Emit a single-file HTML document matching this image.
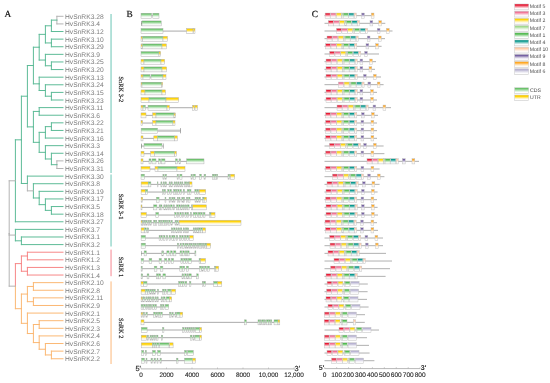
<!DOCTYPE html><html><head><meta charset="utf-8"><style>html,body{margin:0;padding:0;background:#fff;}svg{display:block;will-change:transform;text-rendering:geometricPrecision;}</style></head><body>
<svg width="550" height="383" viewBox="0 0 550 383" font-family="Liberation Sans, sans-serif">
<defs>
<linearGradient id="cds" x1="0" y1="0" x2="0" y2="1"><stop offset="0" stop-color="#45b545"/><stop offset="0.1" stop-color="#61c061"/><stop offset="0.35" stop-color="#a2daa2"/><stop offset="0.6" stop-color="#def2de"/><stop offset="0.8" stop-color="#ffffff"/><stop offset="1" stop-color="#eeeeee"/></linearGradient>
<linearGradient id="utr" x1="0" y1="0" x2="0" y2="1"><stop offset="0" stop-color="#ffd200"/><stop offset="0.28" stop-color="#ffd40d"/><stop offset="0.55" stop-color="#ffefa6"/><stop offset="0.78" stop-color="#ffffff"/><stop offset="1" stop-color="#eeeeee"/></linearGradient>
<linearGradient id="m5" x1="0" y1="0" x2="0" y2="1"><stop offset="0" stop-color="#e8112d"/><stop offset="0.2" stop-color="#e91d38"/><stop offset="0.5" stop-color="#f6a5af"/><stop offset="0.78" stop-color="#ffffff"/><stop offset="1" stop-color="#eeeeee"/></linearGradient>
<linearGradient id="m3" x1="0" y1="0" x2="0" y2="1"><stop offset="0" stop-color="#f06b8f"/><stop offset="0.2" stop-color="#f17295"/><stop offset="0.5" stop-color="#f9c7d4"/><stop offset="0.78" stop-color="#ffffff"/><stop offset="1" stop-color="#eeeeee"/></linearGradient>
<linearGradient id="m2" x1="0" y1="0" x2="0" y2="1"><stop offset="0" stop-color="#ffd200"/><stop offset="0.2" stop-color="#ffd40d"/><stop offset="0.5" stop-color="#ffee9e"/><stop offset="0.78" stop-color="#ffffff"/><stop offset="1" stop-color="#eeeeee"/></linearGradient>
<linearGradient id="m7" x1="0" y1="0" x2="0" y2="1"><stop offset="0" stop-color="#9fd88a"/><stop offset="0.2" stop-color="#a4da90"/><stop offset="0.5" stop-color="#dbf0d3"/><stop offset="0.78" stop-color="#ffffff"/><stop offset="1" stop-color="#eeeeee"/></linearGradient>
<linearGradient id="m1" x1="0" y1="0" x2="0" y2="1"><stop offset="0" stop-color="#4cb84a"/><stop offset="0.2" stop-color="#55bc53"/><stop offset="0.5" stop-color="#bbe4ba"/><stop offset="0.78" stop-color="#ffffff"/><stop offset="1" stop-color="#eeeeee"/></linearGradient>
<linearGradient id="m4" x1="0" y1="0" x2="0" y2="1"><stop offset="0" stop-color="#00968a"/><stop offset="0.2" stop-color="#0d9b90"/><stop offset="0.5" stop-color="#9ed7d3"/><stop offset="0.78" stop-color="#ffffff"/><stop offset="1" stop-color="#eeeeee"/></linearGradient>
<linearGradient id="m10" x1="0" y1="0" x2="0" y2="1"><stop offset="0" stop-color="#ffc7a0"/><stop offset="0.2" stop-color="#ffcaa5"/><stop offset="0.5" stop-color="#ffeadb"/><stop offset="0.78" stop-color="#ffffff"/><stop offset="1" stop-color="#eeeeee"/></linearGradient>
<linearGradient id="m9" x1="0" y1="0" x2="0" y2="1"><stop offset="0" stop-color="#6f5a9e"/><stop offset="0.2" stop-color="#7662a3"/><stop offset="0.5" stop-color="#c8c0da"/><stop offset="0.78" stop-color="#ffffff"/><stop offset="1" stop-color="#eeeeee"/></linearGradient>
<linearGradient id="m8" x1="0" y1="0" x2="0" y2="1"><stop offset="0" stop-color="#ffa41b"/><stop offset="0.2" stop-color="#ffa926"/><stop offset="0.5" stop-color="#ffdca8"/><stop offset="0.78" stop-color="#ffffff"/><stop offset="1" stop-color="#eeeeee"/></linearGradient>
<linearGradient id="m6" x1="0" y1="0" x2="0" y2="1"><stop offset="0" stop-color="#b5b0d0"/><stop offset="0.2" stop-color="#b9b4d2"/><stop offset="0.5" stop-color="#e3e1ed"/><stop offset="0.78" stop-color="#ffffff"/><stop offset="1" stop-color="#eeeeee"/></linearGradient>
</defs>
<rect width="550" height="383" fill="#fff"/>
<text x="4.6" y="16.6" font-family="Liberation Serif, serif" font-size="9.3" fill="#111" stroke="#111" stroke-width="0.2">A</text>
<text x="126.6" y="16.8" font-family="Liberation Serif, serif" font-size="9.3" fill="#111" stroke="#111" stroke-width="0.2">B</text>
<text x="311.8" y="17" font-family="Liberation Serif, serif" font-size="9.3" fill="#111" stroke="#111" stroke-width="0.2">C</text>
<g stroke-width="1" stroke-linecap="square" fill="none">
<line x1="56.90" y1="20.11" x2="56.90" y2="16.30" stroke="#b4b4b4"/>
<line x1="56.90" y1="16.30" x2="63.00" y2="16.30" stroke="#b4b4b4"/>
<line x1="56.90" y1="20.11" x2="56.90" y2="23.91" stroke="#b4b4b4"/>
<line x1="56.90" y1="23.91" x2="63.00" y2="23.91" stroke="#b4b4b4"/>
<line x1="51.40" y1="25.81" x2="51.40" y2="20.11" stroke="#5dbb97"/>
<line x1="51.40" y1="20.11" x2="56.90" y2="20.11" stroke="#5dbb97"/>
<line x1="51.40" y1="25.81" x2="51.40" y2="31.52" stroke="#5dbb97"/>
<line x1="51.40" y1="31.52" x2="63.00" y2="31.52" stroke="#5dbb97"/>
<line x1="45.40" y1="34.37" x2="45.40" y2="25.81" stroke="#5dbb97"/>
<line x1="45.40" y1="25.81" x2="51.40" y2="25.81" stroke="#5dbb97"/>
<line x1="51.40" y1="42.94" x2="51.40" y2="39.13" stroke="#5dbb97"/>
<line x1="51.40" y1="39.13" x2="63.00" y2="39.13" stroke="#5dbb97"/>
<line x1="51.40" y1="42.94" x2="51.40" y2="46.74" stroke="#5dbb97"/>
<line x1="51.40" y1="46.74" x2="63.00" y2="46.74" stroke="#5dbb97"/>
<line x1="45.40" y1="34.37" x2="45.40" y2="42.94" stroke="#5dbb97"/>
<line x1="45.40" y1="42.94" x2="51.40" y2="42.94" stroke="#5dbb97"/>
<line x1="39.20" y1="47.22" x2="39.20" y2="34.37" stroke="#5dbb97"/>
<line x1="39.20" y1="34.37" x2="45.40" y2="34.37" stroke="#5dbb97"/>
<line x1="45.40" y1="60.06" x2="45.40" y2="54.35" stroke="#5dbb97"/>
<line x1="45.40" y1="54.35" x2="63.00" y2="54.35" stroke="#5dbb97"/>
<line x1="51.40" y1="65.77" x2="51.40" y2="61.96" stroke="#5dbb97"/>
<line x1="51.40" y1="61.96" x2="63.00" y2="61.96" stroke="#5dbb97"/>
<line x1="51.40" y1="65.77" x2="51.40" y2="69.57" stroke="#5dbb97"/>
<line x1="51.40" y1="69.57" x2="63.00" y2="69.57" stroke="#5dbb97"/>
<line x1="45.40" y1="60.06" x2="45.40" y2="65.77" stroke="#5dbb97"/>
<line x1="45.40" y1="65.77" x2="51.40" y2="65.77" stroke="#5dbb97"/>
<line x1="39.20" y1="47.22" x2="39.20" y2="60.06" stroke="#5dbb97"/>
<line x1="39.20" y1="60.06" x2="45.40" y2="60.06" stroke="#5dbb97"/>
<line x1="33.40" y1="65.53" x2="33.40" y2="47.22" stroke="#5dbb97"/>
<line x1="33.40" y1="47.22" x2="39.20" y2="47.22" stroke="#5dbb97"/>
<line x1="39.20" y1="83.84" x2="39.20" y2="77.18" stroke="#5dbb97"/>
<line x1="39.20" y1="77.18" x2="63.00" y2="77.18" stroke="#5dbb97"/>
<line x1="45.40" y1="90.50" x2="45.40" y2="84.79" stroke="#5dbb97"/>
<line x1="45.40" y1="84.79" x2="63.00" y2="84.79" stroke="#5dbb97"/>
<line x1="51.40" y1="96.21" x2="51.40" y2="92.40" stroke="#5dbb97"/>
<line x1="51.40" y1="92.40" x2="63.00" y2="92.40" stroke="#5dbb97"/>
<line x1="51.40" y1="96.21" x2="51.40" y2="100.01" stroke="#5dbb97"/>
<line x1="51.40" y1="100.01" x2="63.00" y2="100.01" stroke="#5dbb97"/>
<line x1="45.40" y1="90.50" x2="45.40" y2="96.21" stroke="#5dbb97"/>
<line x1="45.40" y1="96.21" x2="51.40" y2="96.21" stroke="#5dbb97"/>
<line x1="39.20" y1="83.84" x2="39.20" y2="90.50" stroke="#5dbb97"/>
<line x1="39.20" y1="90.50" x2="45.40" y2="90.50" stroke="#5dbb97"/>
<line x1="33.40" y1="65.53" x2="33.40" y2="83.84" stroke="#5dbb97"/>
<line x1="33.40" y1="83.84" x2="39.20" y2="83.84" stroke="#5dbb97"/>
<line x1="27.40" y1="96.21" x2="27.40" y2="65.53" stroke="#5dbb97"/>
<line x1="27.40" y1="65.53" x2="33.40" y2="65.53" stroke="#5dbb97"/>
<line x1="39.20" y1="111.43" x2="39.20" y2="107.62" stroke="#5dbb97"/>
<line x1="39.20" y1="107.62" x2="63.00" y2="107.62" stroke="#5dbb97"/>
<line x1="39.20" y1="111.43" x2="39.20" y2="115.23" stroke="#5dbb97"/>
<line x1="39.20" y1="115.23" x2="63.00" y2="115.23" stroke="#5dbb97"/>
<line x1="33.40" y1="126.88" x2="33.40" y2="111.43" stroke="#5dbb97"/>
<line x1="33.40" y1="111.43" x2="39.20" y2="111.43" stroke="#5dbb97"/>
<line x1="51.40" y1="126.65" x2="51.40" y2="122.84" stroke="#5dbb97"/>
<line x1="51.40" y1="122.84" x2="63.00" y2="122.84" stroke="#5dbb97"/>
<line x1="51.40" y1="126.65" x2="51.40" y2="130.45" stroke="#5dbb97"/>
<line x1="51.40" y1="130.45" x2="63.00" y2="130.45" stroke="#5dbb97"/>
<line x1="45.40" y1="132.35" x2="45.40" y2="126.65" stroke="#5dbb97"/>
<line x1="45.40" y1="126.65" x2="51.40" y2="126.65" stroke="#5dbb97"/>
<line x1="45.40" y1="132.35" x2="45.40" y2="138.06" stroke="#5dbb97"/>
<line x1="45.40" y1="138.06" x2="63.00" y2="138.06" stroke="#5dbb97"/>
<line x1="39.20" y1="142.34" x2="39.20" y2="132.35" stroke="#5dbb97"/>
<line x1="39.20" y1="132.35" x2="45.40" y2="132.35" stroke="#5dbb97"/>
<line x1="45.40" y1="152.33" x2="45.40" y2="145.67" stroke="#5dbb97"/>
<line x1="45.40" y1="145.67" x2="63.00" y2="145.67" stroke="#5dbb97"/>
<line x1="51.40" y1="158.99" x2="51.40" y2="153.28" stroke="#5dbb97"/>
<line x1="51.40" y1="153.28" x2="63.00" y2="153.28" stroke="#5dbb97"/>
<line x1="56.90" y1="164.70" x2="56.90" y2="160.89" stroke="#b4b4b4"/>
<line x1="56.90" y1="160.89" x2="63.00" y2="160.89" stroke="#b4b4b4"/>
<line x1="56.90" y1="164.70" x2="56.90" y2="168.50" stroke="#b4b4b4"/>
<line x1="56.90" y1="168.50" x2="63.00" y2="168.50" stroke="#b4b4b4"/>
<line x1="51.40" y1="158.99" x2="51.40" y2="164.70" stroke="#5dbb97"/>
<line x1="51.40" y1="164.70" x2="56.90" y2="164.70" stroke="#5dbb97"/>
<line x1="45.40" y1="152.33" x2="45.40" y2="158.99" stroke="#5dbb97"/>
<line x1="45.40" y1="158.99" x2="51.40" y2="158.99" stroke="#5dbb97"/>
<line x1="39.20" y1="142.34" x2="39.20" y2="152.33" stroke="#5dbb97"/>
<line x1="39.20" y1="152.33" x2="45.40" y2="152.33" stroke="#5dbb97"/>
<line x1="33.40" y1="126.88" x2="33.40" y2="142.34" stroke="#5dbb97"/>
<line x1="33.40" y1="142.34" x2="39.20" y2="142.34" stroke="#5dbb97"/>
<line x1="27.40" y1="96.21" x2="27.40" y2="126.88" stroke="#5dbb97"/>
<line x1="27.40" y1="126.88" x2="33.40" y2="126.88" stroke="#5dbb97"/>
<line x1="21.40" y1="139.84" x2="21.40" y2="96.21" stroke="#5dbb97"/>
<line x1="21.40" y1="96.21" x2="27.40" y2="96.21" stroke="#5dbb97"/>
<line x1="27.40" y1="183.48" x2="27.40" y2="176.11" stroke="#5dbb97"/>
<line x1="27.40" y1="176.11" x2="63.00" y2="176.11" stroke="#5dbb97"/>
<line x1="33.40" y1="190.85" x2="33.40" y2="183.72" stroke="#5dbb97"/>
<line x1="33.40" y1="183.72" x2="63.00" y2="183.72" stroke="#5dbb97"/>
<line x1="39.20" y1="197.99" x2="39.20" y2="191.33" stroke="#5dbb97"/>
<line x1="39.20" y1="191.33" x2="63.00" y2="191.33" stroke="#5dbb97"/>
<line x1="45.40" y1="204.65" x2="45.40" y2="198.94" stroke="#5dbb97"/>
<line x1="45.40" y1="198.94" x2="63.00" y2="198.94" stroke="#5dbb97"/>
<line x1="51.40" y1="210.36" x2="51.40" y2="206.55" stroke="#5dbb97"/>
<line x1="51.40" y1="206.55" x2="63.00" y2="206.55" stroke="#5dbb97"/>
<line x1="51.40" y1="210.36" x2="51.40" y2="214.16" stroke="#5dbb97"/>
<line x1="51.40" y1="214.16" x2="63.00" y2="214.16" stroke="#5dbb97"/>
<line x1="45.40" y1="204.65" x2="45.40" y2="210.36" stroke="#5dbb97"/>
<line x1="45.40" y1="210.36" x2="51.40" y2="210.36" stroke="#5dbb97"/>
<line x1="39.20" y1="197.99" x2="39.20" y2="204.65" stroke="#5dbb97"/>
<line x1="39.20" y1="204.65" x2="45.40" y2="204.65" stroke="#5dbb97"/>
<line x1="33.40" y1="190.85" x2="33.40" y2="197.99" stroke="#5dbb97"/>
<line x1="33.40" y1="197.99" x2="39.20" y2="197.99" stroke="#5dbb97"/>
<line x1="27.40" y1="183.48" x2="27.40" y2="190.85" stroke="#b4b4b4"/>
<line x1="27.40" y1="190.85" x2="33.40" y2="190.85" stroke="#b4b4b4"/>
<line x1="21.40" y1="139.84" x2="21.40" y2="183.48" stroke="#5dbb97"/>
<line x1="21.40" y1="183.48" x2="27.40" y2="183.48" stroke="#5dbb97"/>
<line x1="15.40" y1="180.81" x2="15.40" y2="139.84" stroke="#5dbb97"/>
<line x1="15.40" y1="139.84" x2="21.40" y2="139.84" stroke="#5dbb97"/>
<line x1="15.40" y1="180.81" x2="15.40" y2="221.77" stroke="#5dbb97"/>
<line x1="15.40" y1="221.77" x2="63.00" y2="221.77" stroke="#5dbb97"/>
<line x1="9.20" y1="233.48" x2="9.20" y2="180.81" stroke="#b4b4b4"/>
<line x1="9.20" y1="180.81" x2="15.40" y2="180.81" stroke="#b4b4b4"/>
<line x1="15.40" y1="235.09" x2="15.40" y2="229.38" stroke="#5dbb97"/>
<line x1="15.40" y1="229.38" x2="63.00" y2="229.38" stroke="#5dbb97"/>
<line x1="21.40" y1="240.80" x2="21.40" y2="236.99" stroke="#5dbb97"/>
<line x1="21.40" y1="236.99" x2="63.00" y2="236.99" stroke="#5dbb97"/>
<line x1="21.40" y1="240.80" x2="21.40" y2="244.60" stroke="#5dbb97"/>
<line x1="21.40" y1="244.60" x2="63.00" y2="244.60" stroke="#5dbb97"/>
<line x1="15.40" y1="235.09" x2="15.40" y2="240.80" stroke="#5dbb97"/>
<line x1="15.40" y1="240.80" x2="21.40" y2="240.80" stroke="#5dbb97"/>
<line x1="9.20" y1="233.48" x2="9.20" y2="235.09" stroke="#b4b4b4"/>
<line x1="9.20" y1="235.09" x2="15.40" y2="235.09" stroke="#b4b4b4"/>
<line x1="27.40" y1="256.01" x2="27.40" y2="252.21" stroke="#f78787"/>
<line x1="27.40" y1="252.21" x2="63.00" y2="252.21" stroke="#f78787"/>
<line x1="27.40" y1="256.01" x2="27.40" y2="259.82" stroke="#f78787"/>
<line x1="27.40" y1="259.82" x2="63.00" y2="259.82" stroke="#f78787"/>
<line x1="21.40" y1="263.62" x2="21.40" y2="256.01" stroke="#f78787"/>
<line x1="21.40" y1="256.01" x2="27.40" y2="256.01" stroke="#f78787"/>
<line x1="27.40" y1="271.24" x2="27.40" y2="267.43" stroke="#f78787"/>
<line x1="27.40" y1="267.43" x2="63.00" y2="267.43" stroke="#f78787"/>
<line x1="27.40" y1="271.24" x2="27.40" y2="275.04" stroke="#f78787"/>
<line x1="27.40" y1="275.04" x2="63.00" y2="275.04" stroke="#f78787"/>
<line x1="21.40" y1="263.62" x2="21.40" y2="271.24" stroke="#f78787"/>
<line x1="21.40" y1="271.24" x2="27.40" y2="271.24" stroke="#f78787"/>
<line x1="15.40" y1="286.16" x2="15.40" y2="263.62" stroke="#f78787"/>
<line x1="15.40" y1="263.62" x2="21.40" y2="263.62" stroke="#f78787"/>
<line x1="33.40" y1="286.46" x2="33.40" y2="282.65" stroke="#fbb874"/>
<line x1="33.40" y1="282.65" x2="63.00" y2="282.65" stroke="#fbb874"/>
<line x1="33.40" y1="286.46" x2="33.40" y2="290.26" stroke="#fbb874"/>
<line x1="33.40" y1="290.26" x2="63.00" y2="290.26" stroke="#fbb874"/>
<line x1="27.40" y1="294.07" x2="27.40" y2="286.46" stroke="#fbb874"/>
<line x1="27.40" y1="286.46" x2="33.40" y2="286.46" stroke="#fbb874"/>
<line x1="33.40" y1="301.68" x2="33.40" y2="297.87" stroke="#fbb874"/>
<line x1="33.40" y1="297.87" x2="63.00" y2="297.87" stroke="#fbb874"/>
<line x1="33.40" y1="301.68" x2="33.40" y2="305.48" stroke="#fbb874"/>
<line x1="33.40" y1="305.48" x2="63.00" y2="305.48" stroke="#fbb874"/>
<line x1="27.40" y1="294.07" x2="27.40" y2="301.68" stroke="#fbb874"/>
<line x1="27.40" y1="301.68" x2="33.40" y2="301.68" stroke="#fbb874"/>
<line x1="21.40" y1="308.69" x2="21.40" y2="294.07" stroke="#fbb874"/>
<line x1="21.40" y1="294.07" x2="27.40" y2="294.07" stroke="#fbb874"/>
<line x1="27.40" y1="323.32" x2="27.40" y2="313.09" stroke="#fbb874"/>
<line x1="27.40" y1="313.09" x2="63.00" y2="313.09" stroke="#fbb874"/>
<line x1="39.20" y1="324.50" x2="39.20" y2="320.70" stroke="#fbb874"/>
<line x1="39.20" y1="320.70" x2="63.00" y2="320.70" stroke="#fbb874"/>
<line x1="39.20" y1="324.50" x2="39.20" y2="328.31" stroke="#fbb874"/>
<line x1="39.20" y1="328.31" x2="63.00" y2="328.31" stroke="#fbb874"/>
<line x1="33.40" y1="333.54" x2="33.40" y2="324.50" stroke="#fbb874"/>
<line x1="33.40" y1="324.50" x2="39.20" y2="324.50" stroke="#fbb874"/>
<line x1="39.20" y1="342.58" x2="39.20" y2="335.92" stroke="#fbb874"/>
<line x1="39.20" y1="335.92" x2="63.00" y2="335.92" stroke="#fbb874"/>
<line x1="45.40" y1="349.24" x2="45.40" y2="343.53" stroke="#fbb874"/>
<line x1="45.40" y1="343.53" x2="63.00" y2="343.53" stroke="#fbb874"/>
<line x1="51.40" y1="354.95" x2="51.40" y2="351.14" stroke="#fbb874"/>
<line x1="51.40" y1="351.14" x2="63.00" y2="351.14" stroke="#fbb874"/>
<line x1="51.40" y1="354.95" x2="51.40" y2="358.75" stroke="#fbb874"/>
<line x1="51.40" y1="358.75" x2="63.00" y2="358.75" stroke="#fbb874"/>
<line x1="45.40" y1="349.24" x2="45.40" y2="354.95" stroke="#fbb874"/>
<line x1="45.40" y1="354.95" x2="51.40" y2="354.95" stroke="#fbb874"/>
<line x1="39.20" y1="342.58" x2="39.20" y2="349.24" stroke="#fbb874"/>
<line x1="39.20" y1="349.24" x2="45.40" y2="349.24" stroke="#fbb874"/>
<line x1="33.40" y1="333.54" x2="33.40" y2="342.58" stroke="#fbb874"/>
<line x1="33.40" y1="342.58" x2="39.20" y2="342.58" stroke="#fbb874"/>
<line x1="27.40" y1="323.32" x2="27.40" y2="333.54" stroke="#fbb874"/>
<line x1="27.40" y1="333.54" x2="33.40" y2="333.54" stroke="#fbb874"/>
<line x1="21.40" y1="308.69" x2="21.40" y2="323.32" stroke="#fbb874"/>
<line x1="21.40" y1="323.32" x2="27.40" y2="323.32" stroke="#fbb874"/>
<line x1="15.40" y1="286.16" x2="15.40" y2="308.69" stroke="#fbb874"/>
<line x1="15.40" y1="308.69" x2="21.40" y2="308.69" stroke="#fbb874"/>
<line x1="9.20" y1="233.48" x2="9.20" y2="286.16" stroke="#b4b4b4"/>
<line x1="9.20" y1="286.16" x2="15.40" y2="286.16" stroke="#b4b4b4"/>
</g>
<g font-size="6.7" fill="#7c7c7c">
<text x="65" y="18.80">HvSnRK3.28</text>
<text x="65" y="26.41">HvSnRK3.4</text>
<text x="65" y="34.02">HvSnRK3.12</text>
<text x="65" y="41.63">HvSnRK3.10</text>
<text x="65" y="49.24">HvSnRK3.29</text>
<text x="65" y="56.85">HvSnRK3.9</text>
<text x="65" y="64.46">HvSnRK3.25</text>
<text x="65" y="72.07">HvSnRK3.20</text>
<text x="65" y="79.68">HvSnRK3.13</text>
<text x="65" y="87.29">HvSnRK3.24</text>
<text x="65" y="94.90">HvSnRK3.15</text>
<text x="65" y="102.51">HvSnRK3.23</text>
<text x="65" y="110.12">HvSnRK3.11</text>
<text x="65" y="117.73">HvSnRK3.6</text>
<text x="65" y="125.34">HvSnRK3.22</text>
<text x="65" y="132.95">HvSnRK3.21</text>
<text x="65" y="140.56">HvSnRK3.16</text>
<text x="65" y="148.17">HvSnRK3.3</text>
<text x="65" y="155.78">HvSnRK3.14</text>
<text x="65" y="163.39">HvSnRK3.26</text>
<text x="65" y="171.00">HvSnRK3.31</text>
<text x="65" y="178.61">HvSnRK3.30</text>
<text x="65" y="186.22">HvSnRK3.8</text>
<text x="65" y="193.83">HvSnRK3.19</text>
<text x="65" y="201.44">HvSnRK3.17</text>
<text x="65" y="209.05">HvSnRK3.5</text>
<text x="65" y="216.66">HvSnRK3.18</text>
<text x="65" y="224.27">HvSnRK3.27</text>
<text x="65" y="231.88">HvSnRK3.7</text>
<text x="65" y="239.49">HvSnRK3.1</text>
<text x="65" y="247.10">HvSnRK3.2</text>
<text x="65" y="254.71">HvSnRK1.1</text>
<text x="65" y="262.32">HvSnRK1.2</text>
<text x="65" y="269.93">HvSnRK1.3</text>
<text x="65" y="277.54">HvSnRK1.4</text>
<text x="65" y="285.15">HvSnRK2.10</text>
<text x="65" y="292.76">HvSnRK2.8</text>
<text x="65" y="300.37">HvSnRK2.11</text>
<text x="65" y="307.98">HvSnRK2.9</text>
<text x="65" y="315.59">HvSnRK2.1</text>
<text x="65" y="323.20">HvSnRK2.5</text>
<text x="65" y="330.81">HvSnRK2.3</text>
<text x="65" y="338.42">HvSnRK2.4</text>
<text x="65" y="346.03">HvSnRK2.6</text>
<text x="65" y="353.64">HvSnRK2.7</text>
<text x="65" y="361.25">HvSnRK2.2</text>
</g>
<rect x="110.4" y="14" width="1.3" height="159" fill="#8dd3c7"/>
<rect x="110.4" y="174.5" width="1.3" height="72" fill="#8dd3c7"/>
<rect x="110.4" y="249.6" width="1.3" height="26.6" fill="#f8a3ab"/>
<rect x="110.4" y="281.4" width="1.3" height="82.6" fill="#fdc99a"/>
<text transform="translate(119.3,89.3) rotate(90)" text-anchor="middle" font-family="Liberation Serif, serif" font-size="6.4" fill="#1a1a1a" stroke="#1a1a1a" stroke-width="0.18">SnRK 3-2</text>
<text transform="translate(119.3,206.5) rotate(90)" text-anchor="middle" font-family="Liberation Serif, serif" font-size="6.4" fill="#1a1a1a" stroke="#1a1a1a" stroke-width="0.18">SnRK 3-1</text>
<text transform="translate(119.3,267) rotate(90)" text-anchor="middle" font-family="Liberation Serif, serif" font-size="6.4" fill="#1a1a1a" stroke="#1a1a1a" stroke-width="0.18">SnRK 1</text>
<text transform="translate(119.3,328.3) rotate(90)" text-anchor="middle" font-family="Liberation Serif, serif" font-size="6.4" fill="#1a1a1a" stroke="#1a1a1a" stroke-width="0.18">SnRK 2</text>
<g stroke="#b0b0b0" stroke-width="0.45">
<line x1="141" y1="15.75" x2="159" y2="15.75" stroke="#8e8e8e" stroke-width="0.75"/>
<rect x="141" y="13.25" width="10.60" height="5.0" fill="url(#cds)"/>
<rect x="152.8" y="13.25" width="6.20" height="5.0" fill="url(#cds)"/>
<line x1="141" y1="23.41" x2="161.2" y2="23.41" stroke="#8e8e8e" stroke-width="0.75"/>
<rect x="141" y="21.02" width="0.70" height="4.8" fill="#7f8f7f" stroke="none"/>
<rect x="142" y="20.91" width="19.20" height="5.0" fill="url(#cds)"/>
<line x1="141" y1="31.08" x2="195" y2="31.08" stroke="#8e8e8e" stroke-width="0.75"/>
<rect x="141" y="28.58" width="22.00" height="5.0" fill="url(#cds)"/>
<rect x="186.6" y="28.58" width="6.40" height="5.0" fill="url(#utr)"/>
<rect x="193.4" y="28.58" width="1.60" height="5.0" fill="url(#utr)"/>
<line x1="141" y1="38.75" x2="167.4" y2="38.75" stroke="#8e8e8e" stroke-width="0.75"/>
<rect x="141" y="36.25" width="1.60" height="5.0" fill="url(#utr)"/>
<rect x="142.6" y="36.25" width="20.40" height="5.0" fill="url(#cds)"/>
<rect x="163" y="36.25" width="4.40" height="5.0" fill="url(#utr)"/>
<line x1="141" y1="46.41" x2="166.4" y2="46.41" stroke="#8e8e8e" stroke-width="0.75"/>
<rect x="141" y="43.91" width="1.60" height="5.0" fill="url(#utr)"/>
<rect x="142.6" y="43.91" width="19.40" height="5.0" fill="url(#cds)"/>
<rect x="162" y="43.91" width="4.40" height="5.0" fill="url(#utr)"/>
<line x1="141" y1="54.08" x2="160.6" y2="54.08" stroke="#8e8e8e" stroke-width="0.75"/>
<rect x="141" y="51.58" width="18.00" height="5.0" fill="url(#cds)"/>
<rect x="159" y="51.58" width="1.60" height="5.0" fill="url(#utr)"/>
<line x1="141" y1="61.74" x2="164.6" y2="61.74" stroke="#8e8e8e" stroke-width="0.75"/>
<rect x="141" y="59.24" width="3.00" height="5.0" fill="url(#utr)"/>
<rect x="144" y="59.24" width="17.00" height="5.0" fill="url(#cds)"/>
<rect x="161" y="59.24" width="3.60" height="5.0" fill="url(#utr)"/>
<line x1="141" y1="69.41" x2="166.6" y2="69.41" stroke="#8e8e8e" stroke-width="0.75"/>
<rect x="141" y="66.91" width="3.00" height="5.0" fill="url(#utr)"/>
<rect x="144" y="66.91" width="18.00" height="5.0" fill="url(#cds)"/>
<rect x="162" y="66.91" width="4.60" height="5.0" fill="url(#utr)"/>
<line x1="141" y1="77.07" x2="166" y2="77.07" stroke="#8e8e8e" stroke-width="0.75"/>
<rect x="141" y="74.57" width="2.00" height="5.0" fill="url(#utr)"/>
<rect x="143" y="74.57" width="7.00" height="5.0" fill="url(#cds)"/>
<rect x="151" y="74.57" width="12.00" height="5.0" fill="url(#cds)"/>
<rect x="163" y="74.57" width="3.00" height="5.0" fill="url(#utr)"/>
<line x1="141" y1="84.73" x2="162.6" y2="84.73" stroke="#8e8e8e" stroke-width="0.75"/>
<rect x="141" y="82.23" width="1.00" height="5.0" fill="url(#utr)"/>
<rect x="142" y="82.23" width="19.60" height="5.0" fill="url(#cds)"/>
<rect x="161.6" y="82.23" width="1.00" height="5.0" fill="url(#utr)"/>
<line x1="141" y1="92.40" x2="165.4" y2="92.40" stroke="#8e8e8e" stroke-width="0.75"/>
<rect x="141" y="89.90" width="4.00" height="5.0" fill="url(#utr)"/>
<rect x="145" y="89.90" width="17.00" height="5.0" fill="url(#cds)"/>
<rect x="162" y="89.90" width="3.40" height="5.0" fill="url(#utr)"/>
<line x1="141" y1="100.06" x2="178.6" y2="100.06" stroke="#8e8e8e" stroke-width="0.75"/>
<rect x="141" y="97.56" width="8.00" height="5.0" fill="url(#utr)"/>
<rect x="149" y="97.56" width="17.00" height="5.0" fill="url(#cds)"/>
<rect x="166" y="97.56" width="12.60" height="5.0" fill="url(#utr)"/>
<line x1="141" y1="107.73" x2="197.4" y2="107.73" stroke="#8e8e8e" stroke-width="0.75"/>
<rect x="141" y="105.23" width="2.00" height="5.0" fill="url(#utr)"/>
<rect x="143" y="105.23" width="2.40" height="5.0" fill="url(#cds)"/>
<rect x="148" y="105.23" width="19.00" height="5.0" fill="url(#cds)"/>
<rect x="167" y="105.23" width="2.40" height="5.0" fill="url(#utr)"/>
<rect x="192.6" y="105.23" width="2.00" height="5.0" fill="url(#utr)"/>
<rect x="195" y="105.23" width="2.40" height="5.0" fill="url(#utr)"/>
<line x1="141" y1="115.39" x2="175.4" y2="115.39" stroke="#8e8e8e" stroke-width="0.75"/>
<rect x="141" y="112.89" width="5.00" height="5.0" fill="url(#utr)"/>
<rect x="152.6" y="112.89" width="3.40" height="5.0" fill="url(#utr)"/>
<rect x="156" y="112.89" width="18.00" height="5.0" fill="url(#cds)"/>
<rect x="174" y="112.89" width="1.40" height="5.0" fill="url(#utr)"/>
<line x1="141" y1="123.06" x2="175" y2="123.06" stroke="#8e8e8e" stroke-width="0.75"/>
<rect x="141" y="120.56" width="1.60" height="5.0" fill="url(#utr)"/>
<rect x="152.6" y="120.56" width="3.40" height="5.0" fill="url(#utr)"/>
<rect x="156" y="120.56" width="17.00" height="5.0" fill="url(#cds)"/>
<rect x="173" y="120.56" width="2.00" height="5.0" fill="url(#utr)"/>
<line x1="141.1" y1="130.72" x2="180.9" y2="130.72" stroke="#8e8e8e" stroke-width="0.75"/>
<rect x="141.1" y="128.22" width="16.50" height="5.0" fill="url(#cds)"/>
<rect x="157.6" y="129.62" width="22.80" height="2.2" fill="#c9c9c9" stroke="none"/>
<rect x="180.1" y="128.12" width="0.80" height="5.2" fill="#9a9a9a" stroke="none"/>
<line x1="141" y1="138.39" x2="177.3" y2="138.39" stroke="#8e8e8e" stroke-width="0.75"/>
<rect x="141" y="135.89" width="2.00" height="5.0" fill="url(#utr)"/>
<rect x="153.8" y="135.89" width="3.80" height="5.0" fill="url(#utr)"/>
<rect x="157.6" y="135.89" width="16.90" height="5.0" fill="url(#cds)"/>
<rect x="174.5" y="135.89" width="2.80" height="5.0" fill="url(#utr)"/>
<line x1="141" y1="146.06" x2="163.6" y2="146.06" stroke="#8e8e8e" stroke-width="0.75"/>
<rect x="141" y="143.66" width="0.70" height="4.8" fill="#7f8f7f" stroke="none"/>
<rect x="144" y="143.56" width="18.00" height="5.0" fill="url(#cds)"/>
<rect x="163" y="143.46" width="0.60" height="5.2" fill="#9a9a9a" stroke="none"/>
<line x1="141" y1="153.72" x2="176.4" y2="153.72" stroke="#8e8e8e" stroke-width="0.75"/>
<rect x="141" y="151.22" width="3.00" height="5.0" fill="url(#utr)"/>
<rect x="150.6" y="151.22" width="3.80" height="5.0" fill="url(#utr)"/>
<rect x="154.4" y="151.22" width="20.20" height="5.0" fill="url(#cds)"/>
<rect x="174.6" y="151.22" width="1.80" height="5.0" fill="url(#utr)"/>
<line x1="141" y1="161.38" x2="204" y2="161.38" stroke="#8e8e8e" stroke-width="0.75"/>
<rect x="141" y="158.88" width="2.00" height="5.0" fill="url(#utr)"/>
<rect x="149" y="158.88" width="2.00" height="5.0" fill="url(#cds)"/>
<rect x="152" y="158.88" width="4.00" height="5.0" fill="url(#cds)"/>
<rect x="158.6" y="158.88" width="2.00" height="5.0" fill="url(#cds)"/>
<rect x="161.4" y="158.88" width="3.60" height="5.0" fill="url(#cds)"/>
<rect x="175.4" y="158.88" width="2.00" height="5.0" fill="url(#cds)"/>
<rect x="179" y="158.88" width="1.60" height="5.0" fill="url(#cds)"/>
<rect x="186.6" y="158.88" width="17.40" height="5.0" fill="url(#cds)"/>
<line x1="141" y1="169.05" x2="185" y2="169.05" stroke="#8e8e8e" stroke-width="0.75"/>
<rect x="141" y="166.55" width="9.00" height="5.0" fill="url(#utr)"/>
<rect x="155" y="166.55" width="3.00" height="5.0" fill="url(#utr)"/>
<rect x="158" y="166.55" width="19.00" height="5.0" fill="url(#cds)"/>
<rect x="177" y="166.55" width="8.00" height="5.0" fill="url(#utr)"/>
<line x1="141" y1="176.72" x2="234.6" y2="176.72" stroke="#8e8e8e" stroke-width="0.75"/>
<rect x="141" y="174.22" width="3.50" height="5.0" fill="url(#cds)"/>
<rect x="162.9" y="174.22" width="1.10" height="5.0" fill="url(#cds)"/>
<rect x="164.9" y="174.22" width="1.60" height="5.0" fill="url(#cds)"/>
<rect x="177.1" y="174.22" width="1.30" height="5.0" fill="url(#cds)"/>
<rect x="179.8" y="174.22" width="2.20" height="5.0" fill="url(#cds)"/>
<rect x="191" y="174.22" width="1.40" height="5.0" fill="url(#cds)"/>
<rect x="193.2" y="174.22" width="2.20" height="5.0" fill="url(#cds)"/>
<rect x="199.7" y="174.22" width="1.70" height="5.0" fill="url(#cds)"/>
<rect x="204" y="174.22" width="1.70" height="5.0" fill="url(#cds)"/>
<rect x="212.3" y="174.22" width="1.70" height="5.0" fill="url(#cds)"/>
<rect x="214.4" y="174.22" width="1.60" height="5.0" fill="url(#cds)"/>
<rect x="216.6" y="174.22" width="1.10" height="5.0" fill="url(#cds)"/>
<rect x="228" y="174.22" width="1.70" height="5.0" fill="url(#cds)"/>
<rect x="230.3" y="174.22" width="4.30" height="5.0" fill="url(#utr)"/>
<line x1="141.1" y1="184.38" x2="192" y2="184.38" stroke="#8e8e8e" stroke-width="0.75"/>
<rect x="141.1" y="181.88" width="7.10" height="5.0" fill="url(#utr)"/>
<rect x="148.2" y="181.88" width="2.70" height="5.0" fill="url(#cds)"/>
<rect x="157.3" y="181.88" width="0.70" height="5.0" fill="url(#cds)"/>
<rect x="160.9" y="181.88" width="1.10" height="5.0" fill="url(#cds)"/>
<rect x="163.2" y="181.88" width="1.20" height="5.0" fill="url(#cds)"/>
<rect x="165" y="181.88" width="1.40" height="5.0" fill="url(#cds)"/>
<rect x="169.1" y="181.88" width="1.10" height="5.0" fill="url(#cds)"/>
<rect x="170.9" y="181.88" width="1.40" height="5.0" fill="url(#cds)"/>
<rect x="174.1" y="181.88" width="1.40" height="5.0" fill="url(#cds)"/>
<rect x="176.2" y="181.88" width="1.10" height="5.0" fill="url(#cds)"/>
<rect x="178" y="181.88" width="1.10" height="5.0" fill="url(#cds)"/>
<rect x="180" y="181.88" width="1.10" height="5.0" fill="url(#cds)"/>
<rect x="181.8" y="181.88" width="1.10" height="5.0" fill="url(#cds)"/>
<rect x="184.5" y="181.88" width="1.40" height="5.0" fill="url(#cds)"/>
<rect x="186.4" y="181.88" width="1.30" height="5.0" fill="url(#cds)"/>
<rect x="188.2" y="181.88" width="1.30" height="5.0" fill="url(#cds)"/>
<rect x="189.5" y="181.88" width="2.50" height="5.0" fill="url(#utr)"/>
<line x1="141.1" y1="192.04" x2="205.7" y2="192.04" stroke="#8e8e8e" stroke-width="0.75"/>
<rect x="141.1" y="189.54" width="4.40" height="5.0" fill="url(#utr)"/>
<rect x="145.5" y="189.54" width="2.20" height="5.0" fill="url(#cds)"/>
<rect x="162.3" y="189.54" width="1.20" height="5.0" fill="url(#cds)"/>
<rect x="164.1" y="189.54" width="1.40" height="5.0" fill="url(#cds)"/>
<rect x="167.7" y="189.54" width="1.40" height="5.0" fill="url(#cds)"/>
<rect x="170" y="189.54" width="1.40" height="5.0" fill="url(#cds)"/>
<rect x="173.6" y="189.54" width="1.40" height="5.0" fill="url(#cds)"/>
<rect x="175.5" y="189.54" width="1.30" height="5.0" fill="url(#cds)"/>
<rect x="177.7" y="189.54" width="1.40" height="5.0" fill="url(#cds)"/>
<rect x="180" y="189.54" width="1.40" height="5.0" fill="url(#cds)"/>
<rect x="183.2" y="189.54" width="1.30" height="5.0" fill="url(#cds)"/>
<rect x="187.2" y="189.54" width="1.80" height="5.0" fill="url(#cds)"/>
<rect x="189.4" y="189.54" width="1.60" height="5.0" fill="url(#cds)"/>
<rect x="194.8" y="189.54" width="1.70" height="5.0" fill="url(#cds)"/>
<rect x="197" y="189.54" width="1.60" height="5.0" fill="url(#cds)"/>
<rect x="199.2" y="189.54" width="6.50" height="5.0" fill="url(#utr)"/>
<line x1="141.1" y1="199.71" x2="206.4" y2="199.71" stroke="#8e8e8e" stroke-width="0.75"/>
<rect x="141.1" y="197.21" width="1.60" height="5.0" fill="url(#utr)"/>
<rect x="156.4" y="197.21" width="2.70" height="5.0" fill="url(#cds)"/>
<rect x="165" y="197.21" width="0.90" height="5.0" fill="url(#cds)"/>
<rect x="169.1" y="197.21" width="1.40" height="5.0" fill="url(#cds)"/>
<rect x="171.8" y="197.21" width="1.40" height="5.0" fill="url(#cds)"/>
<rect x="173.8" y="197.21" width="1.20" height="5.0" fill="url(#cds)"/>
<rect x="177.3" y="197.21" width="0.90" height="5.0" fill="url(#cds)"/>
<rect x="178.9" y="197.21" width="1.10" height="5.0" fill="url(#cds)"/>
<rect x="181.8" y="197.21" width="1.40" height="5.0" fill="url(#cds)"/>
<rect x="183.6" y="197.21" width="0.90" height="5.0" fill="url(#cds)"/>
<rect x="186.4" y="197.21" width="1.30" height="5.0" fill="url(#cds)"/>
<rect x="188.6" y="197.21" width="1.40" height="5.0" fill="url(#cds)"/>
<rect x="195" y="197.21" width="1.40" height="5.0" fill="url(#cds)"/>
<rect x="196.8" y="197.21" width="1.40" height="5.0" fill="url(#cds)"/>
<rect x="199" y="197.21" width="1.50" height="5.0" fill="url(#cds)"/>
<rect x="202.7" y="197.21" width="1.40" height="5.0" fill="url(#cds)"/>
<rect x="204.1" y="197.21" width="2.30" height="5.0" fill="url(#utr)"/>
<line x1="141" y1="207.38" x2="206.4" y2="207.38" stroke="#8e8e8e" stroke-width="0.75"/>
<rect x="141" y="204.88" width="1.00" height="5.0" fill="url(#utr)"/>
<rect x="153.6" y="204.88" width="3.30" height="5.0" fill="url(#cds)"/>
<rect x="159.1" y="204.88" width="1.10" height="5.0" fill="url(#cds)"/>
<rect x="160.5" y="204.88" width="1.50" height="5.0" fill="url(#cds)"/>
<rect x="163.8" y="204.88" width="1.50" height="5.0" fill="url(#cds)"/>
<rect x="166" y="204.88" width="1.50" height="5.0" fill="url(#cds)"/>
<rect x="168.5" y="204.88" width="1.10" height="5.0" fill="url(#cds)"/>
<rect x="170.4" y="204.88" width="1.80" height="5.0" fill="url(#cds)"/>
<rect x="173.3" y="204.88" width="1.10" height="5.0" fill="url(#cds)"/>
<rect x="176.5" y="204.88" width="1.50" height="5.0" fill="url(#cds)"/>
<rect x="178.7" y="204.88" width="1.50" height="5.0" fill="url(#cds)"/>
<rect x="180.9" y="204.88" width="1.80" height="5.0" fill="url(#cds)"/>
<rect x="183.2" y="204.88" width="1.40" height="5.0" fill="url(#cds)"/>
<rect x="185.3" y="204.88" width="1.40" height="5.0" fill="url(#cds)"/>
<rect x="187.3" y="204.88" width="1.80" height="5.0" fill="url(#cds)"/>
<rect x="191.4" y="204.88" width="0.90" height="5.0" fill="url(#cds)"/>
<rect x="192.7" y="204.88" width="13.70" height="5.0" fill="url(#utr)"/>
<line x1="141" y1="215.04" x2="215" y2="215.04" stroke="#8e8e8e" stroke-width="0.75"/>
<rect x="141" y="212.54" width="5.40" height="5.0" fill="url(#utr)"/>
<rect x="155.8" y="212.54" width="2.90" height="5.0" fill="url(#cds)"/>
<rect x="174.7" y="212.54" width="1.50" height="5.0" fill="url(#cds)"/>
<rect x="177.3" y="212.54" width="1.40" height="5.0" fill="url(#cds)"/>
<rect x="179.8" y="212.54" width="1.50" height="5.0" fill="url(#cds)"/>
<rect x="182.4" y="212.54" width="1.10" height="5.0" fill="url(#cds)"/>
<rect x="184.9" y="212.54" width="1.50" height="5.0" fill="url(#cds)"/>
<rect x="187.1" y="212.54" width="1.40" height="5.0" fill="url(#cds)"/>
<rect x="190.5" y="212.54" width="0.90" height="5.0" fill="url(#cds)"/>
<rect x="193.2" y="212.54" width="2.00" height="5.0" fill="url(#cds)"/>
<rect x="195.5" y="212.54" width="1.80" height="5.0" fill="url(#cds)"/>
<rect x="198.2" y="212.54" width="1.80" height="5.0" fill="url(#cds)"/>
<rect x="200.5" y="212.54" width="1.80" height="5.0" fill="url(#cds)"/>
<rect x="203.2" y="212.54" width="1.80" height="5.0" fill="url(#cds)"/>
<rect x="209.5" y="212.54" width="1.50" height="5.0" fill="url(#cds)"/>
<rect x="211" y="212.54" width="4.00" height="5.0" fill="url(#utr)"/>
<line x1="141.1" y1="222.71" x2="241" y2="222.71" stroke="#8e8e8e" stroke-width="0.75"/>
<rect x="141.1" y="220.21" width="1.20" height="5.0" fill="url(#utr)"/>
<rect x="142.3" y="220.21" width="1.30" height="5.0" fill="url(#cds)"/>
<rect x="144.1" y="220.21" width="1.40" height="5.0" fill="url(#cds)"/>
<rect x="145.9" y="220.21" width="1.40" height="5.0" fill="url(#cds)"/>
<rect x="148.2" y="220.21" width="1.30" height="5.0" fill="url(#cds)"/>
<rect x="150" y="220.21" width="1.40" height="5.0" fill="url(#cds)"/>
<rect x="153.6" y="220.21" width="1.40" height="5.0" fill="url(#cds)"/>
<rect x="155.5" y="220.21" width="1.30" height="5.0" fill="url(#cds)"/>
<rect x="158.6" y="220.21" width="1.40" height="5.0" fill="url(#cds)"/>
<rect x="160.5" y="220.21" width="1.30" height="5.0" fill="url(#cds)"/>
<rect x="162.7" y="220.21" width="1.40" height="5.0" fill="url(#cds)"/>
<rect x="164.5" y="220.21" width="1.40" height="5.0" fill="url(#cds)"/>
<rect x="166.4" y="220.21" width="1.30" height="5.0" fill="url(#cds)"/>
<rect x="168.6" y="220.21" width="1.40" height="5.0" fill="url(#cds)"/>
<rect x="170.9" y="220.21" width="1.40" height="5.0" fill="url(#cds)"/>
<rect x="175" y="220.21" width="1.40" height="5.0" fill="url(#cds)"/>
<rect x="176.8" y="220.21" width="1.40" height="5.0" fill="url(#cds)"/>
<rect x="179.1" y="220.21" width="61.90" height="5.0" fill="url(#utr)"/>
<line x1="141.1" y1="230.37" x2="205.5" y2="230.37" stroke="#8e8e8e" stroke-width="0.75"/>
<rect x="141.1" y="227.87" width="3.00" height="5.0" fill="url(#utr)"/>
<rect x="144.5" y="227.87" width="1.90" height="5.0" fill="url(#cds)"/>
<rect x="147.3" y="227.87" width="1.30" height="5.0" fill="url(#cds)"/>
<rect x="171.4" y="227.87" width="1.30" height="5.0" fill="url(#cds)"/>
<rect x="173.6" y="227.87" width="1.40" height="5.0" fill="url(#cds)"/>
<rect x="175.9" y="227.87" width="1.40" height="5.0" fill="url(#cds)"/>
<rect x="178.2" y="227.87" width="1.30" height="5.0" fill="url(#cds)"/>
<rect x="180.5" y="227.87" width="1.30" height="5.0" fill="url(#cds)"/>
<rect x="183.2" y="227.87" width="1.30" height="5.0" fill="url(#cds)"/>
<rect x="185.5" y="227.87" width="1.30" height="5.0" fill="url(#cds)"/>
<rect x="187.3" y="227.87" width="1.30" height="5.0" fill="url(#cds)"/>
<rect x="193.2" y="227.87" width="1.30" height="5.0" fill="url(#cds)"/>
<rect x="195" y="227.87" width="1.40" height="5.0" fill="url(#cds)"/>
<rect x="196.8" y="227.87" width="1.40" height="5.0" fill="url(#cds)"/>
<rect x="198.6" y="227.87" width="1.40" height="5.0" fill="url(#cds)"/>
<rect x="200.5" y="227.87" width="1.80" height="5.0" fill="url(#cds)"/>
<rect x="202.7" y="227.87" width="2.80" height="5.0" fill="url(#utr)"/>
<line x1="141.1" y1="238.03" x2="193.2" y2="238.03" stroke="#8e8e8e" stroke-width="0.75"/>
<rect x="141.1" y="235.53" width="4.40" height="5.0" fill="url(#cds)"/>
<rect x="159.1" y="235.53" width="1.10" height="5.0" fill="url(#cds)"/>
<rect x="160.9" y="235.53" width="1.40" height="5.0" fill="url(#cds)"/>
<rect x="163.6" y="235.53" width="1.40" height="5.0" fill="url(#cds)"/>
<rect x="166.4" y="235.53" width="1.30" height="5.0" fill="url(#cds)"/>
<rect x="169.1" y="235.53" width="1.40" height="5.0" fill="url(#cds)"/>
<rect x="171.8" y="235.53" width="1.40" height="5.0" fill="url(#cds)"/>
<rect x="173.6" y="235.53" width="1.40" height="5.0" fill="url(#cds)"/>
<rect x="176.4" y="235.53" width="1.30" height="5.0" fill="url(#cds)"/>
<rect x="179.5" y="235.53" width="1.40" height="5.0" fill="url(#cds)"/>
<rect x="181.8" y="235.53" width="1.40" height="5.0" fill="url(#cds)"/>
<rect x="184.5" y="235.53" width="1.40" height="5.0" fill="url(#cds)"/>
<rect x="186.8" y="235.53" width="1.80" height="5.0" fill="url(#cds)"/>
<rect x="189.5" y="235.53" width="3.70" height="5.0" fill="url(#utr)"/>
<line x1="141.1" y1="245.70" x2="210.5" y2="245.70" stroke="#8e8e8e" stroke-width="0.75"/>
<rect x="141.1" y="243.20" width="4.40" height="5.0" fill="url(#cds)"/>
<rect x="177.3" y="243.20" width="1.30" height="5.0" fill="url(#cds)"/>
<rect x="180" y="243.20" width="1.40" height="5.0" fill="url(#cds)"/>
<rect x="182.7" y="243.20" width="1.40" height="5.0" fill="url(#cds)"/>
<rect x="185" y="243.20" width="1.40" height="5.0" fill="url(#cds)"/>
<rect x="186.8" y="243.20" width="1.40" height="5.0" fill="url(#cds)"/>
<rect x="189.1" y="243.20" width="1.40" height="5.0" fill="url(#cds)"/>
<rect x="190.9" y="243.20" width="1.40" height="5.0" fill="url(#cds)"/>
<rect x="193.2" y="243.20" width="1.30" height="5.0" fill="url(#cds)"/>
<rect x="195" y="243.20" width="1.40" height="5.0" fill="url(#cds)"/>
<rect x="197.3" y="243.20" width="1.30" height="5.0" fill="url(#cds)"/>
<rect x="199.1" y="243.20" width="1.80" height="5.0" fill="url(#cds)"/>
<rect x="201.4" y="243.20" width="1.30" height="5.0" fill="url(#cds)"/>
<rect x="203.2" y="243.20" width="1.30" height="5.0" fill="url(#cds)"/>
<rect x="205" y="243.20" width="1.80" height="5.0" fill="url(#cds)"/>
<rect x="206.8" y="243.20" width="3.70" height="5.0" fill="url(#utr)"/>
<line x1="141.1" y1="253.37" x2="195.9" y2="253.37" stroke="#8e8e8e" stroke-width="0.75"/>
<rect x="141.1" y="250.97" width="0.50" height="4.8" fill="#7f8f7f" stroke="none"/>
<rect x="144.1" y="250.87" width="2.30" height="5.0" fill="url(#cds)"/>
<rect x="161.8" y="250.87" width="1.80" height="5.0" fill="url(#cds)"/>
<rect x="166.8" y="250.87" width="2.30" height="5.0" fill="url(#cds)"/>
<rect x="170.5" y="250.87" width="1.80" height="5.0" fill="url(#cds)"/>
<rect x="173.6" y="250.87" width="2.30" height="5.0" fill="url(#cds)"/>
<rect x="180" y="250.87" width="1.80" height="5.0" fill="url(#cds)"/>
<rect x="182.7" y="250.87" width="1.80" height="5.0" fill="url(#cds)"/>
<rect x="185.3" y="250.87" width="1.50" height="5.0" fill="url(#cds)"/>
<rect x="187.3" y="250.87" width="1.80" height="5.0" fill="url(#cds)"/>
<rect x="194.9" y="250.87" width="1.00" height="5.0" fill="url(#cds)"/>
<line x1="141.1" y1="261.03" x2="205.5" y2="261.03" stroke="#8e8e8e" stroke-width="0.75"/>
<rect x="141.1" y="258.53" width="2.50" height="5.0" fill="url(#cds)"/>
<rect x="149.1" y="258.53" width="2.70" height="5.0" fill="url(#cds)"/>
<rect x="159.1" y="258.53" width="2.30" height="5.0" fill="url(#cds)"/>
<rect x="164.5" y="258.53" width="2.30" height="5.0" fill="url(#cds)"/>
<rect x="168.2" y="258.53" width="1.80" height="5.0" fill="url(#cds)"/>
<rect x="171.4" y="258.53" width="2.20" height="5.0" fill="url(#cds)"/>
<rect x="180.9" y="258.53" width="1.80" height="5.0" fill="url(#cds)"/>
<rect x="183.6" y="258.53" width="1.90" height="5.0" fill="url(#cds)"/>
<rect x="185.9" y="258.53" width="1.60" height="5.0" fill="url(#cds)"/>
<rect x="188.2" y="258.53" width="3.20" height="5.0" fill="url(#cds)"/>
<rect x="199.1" y="258.53" width="1.40" height="5.0" fill="url(#cds)"/>
<rect x="200.5" y="258.53" width="5.00" height="5.0" fill="url(#utr)"/>
<line x1="141.1" y1="268.69" x2="218.6" y2="268.69" stroke="#8e8e8e" stroke-width="0.75"/>
<rect x="141.1" y="266.19" width="1.10" height="5.0" fill="url(#cds)"/>
<rect x="154.2" y="266.19" width="2.70" height="5.0" fill="url(#cds)"/>
<rect x="160.2" y="266.19" width="2.70" height="5.0" fill="url(#cds)"/>
<rect x="179.8" y="266.19" width="2.20" height="5.0" fill="url(#cds)"/>
<rect x="182.5" y="266.19" width="2.20" height="5.0" fill="url(#cds)"/>
<rect x="186.3" y="266.19" width="2.20" height="5.0" fill="url(#cds)"/>
<rect x="199.5" y="266.19" width="1.90" height="5.0" fill="url(#cds)"/>
<rect x="201.8" y="266.19" width="1.80" height="5.0" fill="url(#cds)"/>
<rect x="204.5" y="266.19" width="1.90" height="5.0" fill="url(#cds)"/>
<rect x="207.3" y="266.19" width="2.20" height="5.0" fill="url(#cds)"/>
<rect x="214.5" y="266.19" width="1.40" height="5.0" fill="url(#cds)"/>
<rect x="215.9" y="266.19" width="2.70" height="5.0" fill="url(#utr)"/>
<line x1="141.1" y1="276.36" x2="198.3" y2="276.36" stroke="#8e8e8e" stroke-width="0.75"/>
<rect x="141.1" y="273.86" width="1.60" height="5.0" fill="url(#cds)"/>
<rect x="147.1" y="273.86" width="1.80" height="5.0" fill="url(#cds)"/>
<rect x="156.4" y="273.86" width="1.60" height="5.0" fill="url(#cds)"/>
<rect x="158.5" y="273.86" width="2.20" height="5.0" fill="url(#cds)"/>
<rect x="162.9" y="273.86" width="2.70" height="5.0" fill="url(#cds)"/>
<rect x="182" y="273.86" width="1.60" height="5.0" fill="url(#cds)"/>
<rect x="184.7" y="273.86" width="1.60" height="5.0" fill="url(#cds)"/>
<rect x="187" y="273.86" width="1.40" height="5.0" fill="url(#cds)"/>
<rect x="189" y="273.86" width="2.30" height="5.0" fill="url(#cds)"/>
<rect x="196.7" y="273.86" width="1.60" height="5.0" fill="url(#cds)"/>
<line x1="141" y1="284.02" x2="221.8" y2="284.02" stroke="#8e8e8e" stroke-width="0.75"/>
<rect x="141" y="281.52" width="2.70" height="5.0" fill="url(#utr)"/>
<rect x="143.7" y="281.52" width="3.30" height="5.0" fill="url(#cds)"/>
<rect x="178.6" y="281.52" width="1.40" height="5.0" fill="url(#cds)"/>
<rect x="180.5" y="281.52" width="1.80" height="5.0" fill="url(#cds)"/>
<rect x="182.7" y="281.52" width="1.40" height="5.0" fill="url(#cds)"/>
<rect x="185" y="281.52" width="1.80" height="5.0" fill="url(#cds)"/>
<rect x="189.5" y="281.52" width="1.40" height="5.0" fill="url(#cds)"/>
<rect x="202.3" y="281.52" width="1.30" height="5.0" fill="url(#cds)"/>
<rect x="203.9" y="281.52" width="1.60" height="5.0" fill="url(#cds)"/>
<rect x="213.6" y="281.52" width="3.70" height="5.0" fill="url(#cds)"/>
<rect x="217.3" y="281.52" width="4.50" height="5.0" fill="url(#utr)"/>
<line x1="141.1" y1="291.69" x2="175.6" y2="291.69" stroke="#8e8e8e" stroke-width="0.75"/>
<rect x="141.1" y="289.19" width="4.00" height="5.0" fill="url(#utr)"/>
<rect x="145.5" y="289.19" width="1.80" height="5.0" fill="url(#cds)"/>
<rect x="147.6" y="289.19" width="1.50" height="5.0" fill="url(#cds)"/>
<rect x="149.8" y="289.19" width="1.80" height="5.0" fill="url(#cds)"/>
<rect x="152" y="289.19" width="1.50" height="5.0" fill="url(#cds)"/>
<rect x="153.8" y="289.19" width="1.50" height="5.0" fill="url(#cds)"/>
<rect x="157.5" y="289.19" width="1.00" height="5.0" fill="url(#cds)"/>
<rect x="162.5" y="289.19" width="1.50" height="5.0" fill="url(#cds)"/>
<rect x="164.7" y="289.19" width="1.50" height="5.0" fill="url(#cds)"/>
<rect x="167.6" y="289.19" width="3.30" height="5.0" fill="url(#cds)"/>
<rect x="171.3" y="289.19" width="4.30" height="5.0" fill="url(#utr)"/>
<line x1="141.1" y1="299.36" x2="171.6" y2="299.36" stroke="#8e8e8e" stroke-width="0.75"/>
<rect x="141.1" y="296.86" width="1.40" height="5.0" fill="url(#utr)"/>
<rect x="142.9" y="296.86" width="1.80" height="5.0" fill="url(#cds)"/>
<rect x="145.8" y="296.86" width="1.50" height="5.0" fill="url(#cds)"/>
<rect x="148" y="296.86" width="1.50" height="5.0" fill="url(#cds)"/>
<rect x="149.8" y="296.86" width="1.50" height="5.0" fill="url(#cds)"/>
<rect x="152.4" y="296.86" width="1.40" height="5.0" fill="url(#cds)"/>
<rect x="154.9" y="296.86" width="1.50" height="5.0" fill="url(#cds)"/>
<rect x="157.1" y="296.86" width="1.10" height="5.0" fill="url(#cds)"/>
<rect x="161.1" y="296.86" width="1.40" height="5.0" fill="url(#cds)"/>
<rect x="163.3" y="296.86" width="1.80" height="5.0" fill="url(#cds)"/>
<rect x="166.2" y="296.86" width="3.30" height="5.0" fill="url(#cds)"/>
<rect x="169.5" y="296.86" width="2.10" height="5.0" fill="url(#utr)"/>
<line x1="141.1" y1="307.02" x2="168.7" y2="307.02" stroke="#8e8e8e" stroke-width="0.75"/>
<rect x="141.1" y="304.52" width="1.80" height="5.0" fill="url(#cds)"/>
<rect x="143.6" y="304.52" width="1.90" height="5.0" fill="url(#cds)"/>
<rect x="146.2" y="304.52" width="1.40" height="5.0" fill="url(#cds)"/>
<rect x="148.4" y="304.52" width="1.40" height="5.0" fill="url(#cds)"/>
<rect x="150.2" y="304.52" width="1.40" height="5.0" fill="url(#cds)"/>
<rect x="152.7" y="304.52" width="1.50" height="5.0" fill="url(#cds)"/>
<rect x="154.9" y="304.52" width="1.50" height="5.0" fill="url(#cds)"/>
<rect x="160.4" y="304.52" width="1.40" height="5.0" fill="url(#cds)"/>
<rect x="162.5" y="304.52" width="1.50" height="5.0" fill="url(#cds)"/>
<rect x="165.1" y="304.52" width="3.60" height="5.0" fill="url(#cds)"/>
<line x1="141.1" y1="314.69" x2="182.7" y2="314.69" stroke="#8e8e8e" stroke-width="0.75"/>
<rect x="141.1" y="312.19" width="1.60" height="5.0" fill="url(#utr)"/>
<rect x="143.2" y="312.19" width="1.30" height="5.0" fill="url(#cds)"/>
<rect x="145.9" y="312.19" width="1.40" height="5.0" fill="url(#cds)"/>
<rect x="153.6" y="312.19" width="1.90" height="5.0" fill="url(#cds)"/>
<rect x="155.9" y="312.19" width="1.80" height="5.0" fill="url(#cds)"/>
<rect x="158.2" y="312.19" width="1.80" height="5.0" fill="url(#cds)"/>
<rect x="160.5" y="312.19" width="1.80" height="5.0" fill="url(#cds)"/>
<rect x="169.5" y="312.19" width="1.40" height="5.0" fill="url(#cds)"/>
<rect x="171.8" y="312.19" width="1.40" height="5.0" fill="url(#cds)"/>
<rect x="175" y="312.19" width="1.40" height="5.0" fill="url(#cds)"/>
<rect x="176.8" y="312.19" width="3.20" height="5.0" fill="url(#cds)"/>
<rect x="180" y="312.19" width="2.70" height="5.0" fill="url(#utr)"/>
<line x1="141" y1="322.35" x2="279.8" y2="322.35" stroke="#8e8e8e" stroke-width="0.75"/>
<rect x="141" y="319.85" width="3.00" height="5.0" fill="url(#utr)"/>
<rect x="244.5" y="319.85" width="1.90" height="5.0" fill="url(#cds)"/>
<rect x="258" y="319.85" width="1.80" height="5.0" fill="url(#cds)"/>
<rect x="260.2" y="319.85" width="1.40" height="5.0" fill="url(#cds)"/>
<rect x="262" y="319.85" width="1.80" height="5.0" fill="url(#cds)"/>
<rect x="264.2" y="319.85" width="1.40" height="5.0" fill="url(#cds)"/>
<rect x="266.4" y="319.85" width="1.80" height="5.0" fill="url(#cds)"/>
<rect x="268.5" y="319.85" width="1.50" height="5.0" fill="url(#cds)"/>
<rect x="270.4" y="319.85" width="1.40" height="5.0" fill="url(#cds)"/>
<rect x="274" y="319.85" width="4.00" height="5.0" fill="url(#cds)"/>
<rect x="278" y="319.85" width="1.80" height="5.0" fill="url(#utr)"/>
<line x1="141.2" y1="330.01" x2="201.5" y2="330.01" stroke="#8e8e8e" stroke-width="0.75"/>
<rect x="141.2" y="327.51" width="5.90" height="5.0" fill="url(#cds)"/>
<rect x="162.5" y="327.51" width="1.40" height="5.0" fill="url(#cds)"/>
<rect x="182.6" y="327.51" width="1.40" height="5.0" fill="url(#cds)"/>
<rect x="184.9" y="327.51" width="1.40" height="5.0" fill="url(#cds)"/>
<rect x="187" y="327.51" width="1.50" height="5.0" fill="url(#cds)"/>
<rect x="189" y="327.51" width="1.60" height="5.0" fill="url(#cds)"/>
<rect x="191.1" y="327.51" width="1.50" height="5.0" fill="url(#cds)"/>
<rect x="193.2" y="327.51" width="1.40" height="5.0" fill="url(#cds)"/>
<rect x="195.3" y="327.51" width="4.40" height="5.0" fill="url(#cds)"/>
<rect x="199.7" y="327.51" width="1.80" height="5.0" fill="url(#utr)"/>
<line x1="141.2" y1="337.68" x2="201.5" y2="337.68" stroke="#8e8e8e" stroke-width="0.75"/>
<rect x="141.2" y="335.18" width="5.30" height="5.0" fill="url(#utr)"/>
<rect x="147.1" y="335.18" width="1.40" height="5.0" fill="url(#cds)"/>
<rect x="150" y="335.18" width="1.50" height="5.0" fill="url(#cds)"/>
<rect x="152" y="335.18" width="1.60" height="5.0" fill="url(#cds)"/>
<rect x="154.2" y="335.18" width="1.40" height="5.0" fill="url(#cds)"/>
<rect x="156.5" y="335.18" width="1.50" height="5.0" fill="url(#cds)"/>
<rect x="161.3" y="335.18" width="1.40" height="5.0" fill="url(#cds)"/>
<rect x="190.2" y="335.18" width="1.80" height="5.0" fill="url(#cds)"/>
<rect x="193" y="335.18" width="1.40" height="5.0" fill="url(#cds)"/>
<rect x="195" y="335.18" width="4.70" height="5.0" fill="url(#cds)"/>
<rect x="199.7" y="335.18" width="1.80" height="5.0" fill="url(#utr)"/>
<line x1="141.2" y1="345.35" x2="173.1" y2="345.35" stroke="#8e8e8e" stroke-width="0.75"/>
<rect x="141.2" y="342.85" width="11.20" height="5.0" fill="url(#utr)"/>
<rect x="152.4" y="342.85" width="1.60" height="5.0" fill="url(#cds)"/>
<rect x="154.4" y="342.85" width="1.60" height="5.0" fill="url(#cds)"/>
<rect x="156.5" y="342.85" width="2.40" height="5.0" fill="url(#cds)"/>
<rect x="159.5" y="342.85" width="9.50" height="5.0" fill="url(#cds)"/>
<rect x="169.6" y="342.85" width="3.50" height="5.0" fill="url(#utr)"/>
<line x1="141.6" y1="353.01" x2="193.3" y2="353.01" stroke="#8e8e8e" stroke-width="0.75"/>
<rect x="141.6" y="350.51" width="2.20" height="5.0" fill="url(#cds)"/>
<rect x="145.2" y="350.51" width="1.20" height="5.0" fill="url(#cds)"/>
<rect x="152.5" y="350.51" width="2.90" height="5.0" fill="url(#cds)"/>
<rect x="157.6" y="350.51" width="2.90" height="5.0" fill="url(#cds)"/>
<rect x="184.5" y="350.51" width="2.20" height="5.0" fill="url(#cds)"/>
<rect x="187.5" y="350.51" width="5.80" height="5.0" fill="url(#cds)"/>
<line x1="141.6" y1="360.68" x2="195.5" y2="360.68" stroke="#8e8e8e" stroke-width="0.75"/>
<rect x="141.6" y="358.18" width="2.90" height="5.0" fill="url(#cds)"/>
<rect x="146" y="358.18" width="1.00" height="5.0" fill="url(#cds)"/>
<rect x="151" y="358.18" width="1.50" height="5.0" fill="url(#cds)"/>
<rect x="154" y="358.18" width="1.50" height="5.0" fill="url(#cds)"/>
<rect x="157" y="358.18" width="1.00" height="5.0" fill="url(#cds)"/>
<rect x="160" y="358.18" width="1.30" height="5.0" fill="url(#cds)"/>
<rect x="176.5" y="358.18" width="1.50" height="5.0" fill="url(#cds)"/>
<rect x="184.5" y="358.18" width="8.00" height="5.0" fill="url(#cds)"/>
<rect x="192.5" y="358.18" width="3.00" height="5.0" fill="url(#utr)"/>
</g>
<g>
<line x1="141" y1="368.9" x2="294.6" y2="368.9" stroke="#b8b8b8" stroke-width="1"/>
<line x1="141.00" y1="367.5" x2="141.00" y2="368.9" stroke="#aaaaaa" stroke-width="0.6"/>
<text x="141.00" y="377.3" text-anchor="middle" font-size="6.4" fill="#222" stroke="#222" stroke-width="0.1">0</text>
<line x1="166.50" y1="367.5" x2="166.50" y2="368.9" stroke="#aaaaaa" stroke-width="0.6"/>
<text x="166.50" y="377.3" text-anchor="middle" font-size="6.4" fill="#222" stroke="#222" stroke-width="0.1">2000</text>
<line x1="192.00" y1="367.5" x2="192.00" y2="368.9" stroke="#aaaaaa" stroke-width="0.6"/>
<text x="192.00" y="377.3" text-anchor="middle" font-size="6.4" fill="#222" stroke="#222" stroke-width="0.1">4000</text>
<line x1="217.50" y1="367.5" x2="217.50" y2="368.9" stroke="#aaaaaa" stroke-width="0.6"/>
<text x="217.50" y="377.3" text-anchor="middle" font-size="6.4" fill="#222" stroke="#222" stroke-width="0.1">6000</text>
<line x1="243.00" y1="367.5" x2="243.00" y2="368.9" stroke="#aaaaaa" stroke-width="0.6"/>
<text x="243.00" y="377.3" text-anchor="middle" font-size="6.4" fill="#222" stroke="#222" stroke-width="0.1">8000</text>
<line x1="268.50" y1="367.5" x2="268.50" y2="368.9" stroke="#aaaaaa" stroke-width="0.6"/>
<text x="268.50" y="377.3" text-anchor="middle" font-size="6.4" fill="#222" stroke="#222" stroke-width="0.1">10,000</text>
<line x1="294.00" y1="367.5" x2="294.00" y2="368.9" stroke="#aaaaaa" stroke-width="0.6"/>
<text x="294.00" y="377.3" text-anchor="middle" font-size="6.4" fill="#222" stroke="#222" stroke-width="0.1">12,000</text>
<text x="135.4" y="370.6" font-size="7.4" fill="#222" stroke="#222" stroke-width="0.15">5'</text>
<text x="294.6" y="370.5" font-size="7.4" fill="#222" stroke="#222" stroke-width="0.15">3'</text>
</g>
<g stroke="#c0c0c0" stroke-width="0.45">
<line x1="324.5" y1="15.65" x2="374.2" y2="15.65" stroke="#a2a2a2" stroke-width="0.85"/>
<rect x="325.10" y="13.05" width="5.00" height="5.2" fill="url(#m5)"/>
<rect x="330.50" y="13.05" width="5.40" height="5.2" fill="url(#m3)"/>
<rect x="336.30" y="13.05" width="5.00" height="5.2" fill="url(#m2)"/>
<rect x="341.70" y="13.05" width="1.30" height="5.2" fill="url(#m7)"/>
<rect x="343.20" y="13.05" width="5.00" height="5.2" fill="url(#m1)"/>
<rect x="348.80" y="13.05" width="5.10" height="5.2" fill="url(#m4)"/>
<rect x="354.30" y="13.05" width="2.00" height="5.2" fill="url(#m10)"/>
<rect x="361.60" y="13.05" width="2.80" height="5.2" fill="url(#m9)"/>
<rect x="371.20" y="13.05" width="2.80" height="5.2" fill="url(#m8)"/>
<line x1="324.5" y1="23.32" x2="385.3" y2="23.32" stroke="#a2a2a2" stroke-width="0.85"/>
<rect x="328.30" y="20.72" width="5.00" height="5.2" fill="url(#m5)"/>
<rect x="333.70" y="20.72" width="5.40" height="5.2" fill="url(#m3)"/>
<rect x="339.50" y="20.72" width="5.00" height="5.2" fill="url(#m2)"/>
<rect x="344.90" y="20.72" width="1.30" height="5.2" fill="url(#m7)"/>
<rect x="346.40" y="20.72" width="5.00" height="5.2" fill="url(#m1)"/>
<rect x="352.00" y="20.72" width="5.10" height="5.2" fill="url(#m4)"/>
<rect x="357.50" y="20.72" width="2.00" height="5.2" fill="url(#m10)"/>
<rect x="370.00" y="20.72" width="2.80" height="5.2" fill="url(#m9)"/>
<rect x="378.80" y="20.72" width="2.80" height="5.2" fill="url(#m8)"/>
<line x1="324.5" y1="30.99" x2="392.5" y2="30.99" stroke="#a2a2a2" stroke-width="0.85"/>
<rect x="336.50" y="28.39" width="5.00" height="5.2" fill="url(#m5)"/>
<rect x="341.90" y="28.39" width="5.40" height="5.2" fill="url(#m3)"/>
<rect x="347.70" y="28.39" width="5.00" height="5.2" fill="url(#m2)"/>
<rect x="353.10" y="28.39" width="1.30" height="5.2" fill="url(#m7)"/>
<rect x="354.60" y="28.39" width="5.00" height="5.2" fill="url(#m1)"/>
<rect x="360.20" y="28.39" width="5.10" height="5.2" fill="url(#m4)"/>
<rect x="365.70" y="28.39" width="2.00" height="5.2" fill="url(#m10)"/>
<rect x="377.20" y="28.39" width="2.80" height="5.2" fill="url(#m9)"/>
<rect x="386.40" y="28.39" width="2.80" height="5.2" fill="url(#m8)"/>
<line x1="324.5" y1="38.65" x2="385" y2="38.65" stroke="#a2a2a2" stroke-width="0.85"/>
<rect x="327.00" y="36.05" width="5.00" height="5.2" fill="url(#m5)"/>
<rect x="332.40" y="36.05" width="5.40" height="5.2" fill="url(#m3)"/>
<rect x="338.20" y="36.05" width="5.00" height="5.2" fill="url(#m2)"/>
<rect x="343.60" y="36.05" width="1.30" height="5.2" fill="url(#m7)"/>
<rect x="345.10" y="36.05" width="5.00" height="5.2" fill="url(#m1)"/>
<rect x="350.70" y="36.05" width="5.10" height="5.2" fill="url(#m4)"/>
<rect x="356.20" y="36.05" width="2.00" height="5.2" fill="url(#m10)"/>
<rect x="367.20" y="36.05" width="2.80" height="5.2" fill="url(#m9)"/>
<rect x="378.40" y="36.05" width="2.80" height="5.2" fill="url(#m8)"/>
<line x1="324.5" y1="46.32" x2="381.6" y2="46.32" stroke="#a2a2a2" stroke-width="0.85"/>
<rect x="325.60" y="43.72" width="5.00" height="5.2" fill="url(#m5)"/>
<rect x="331.00" y="43.72" width="5.40" height="5.2" fill="url(#m3)"/>
<rect x="336.80" y="43.72" width="5.00" height="5.2" fill="url(#m2)"/>
<rect x="342.20" y="43.72" width="1.30" height="5.2" fill="url(#m7)"/>
<rect x="343.70" y="43.72" width="5.00" height="5.2" fill="url(#m1)"/>
<rect x="349.30" y="43.72" width="5.10" height="5.2" fill="url(#m4)"/>
<rect x="354.80" y="43.72" width="2.00" height="5.2" fill="url(#m10)"/>
<rect x="366.00" y="43.72" width="2.80" height="5.2" fill="url(#m9)"/>
<rect x="375.60" y="43.72" width="2.80" height="5.2" fill="url(#m8)"/>
<line x1="324.5" y1="53.99" x2="379" y2="53.99" stroke="#a2a2a2" stroke-width="0.85"/>
<rect x="329.60" y="51.39" width="5.00" height="5.2" fill="url(#m5)"/>
<rect x="335.00" y="51.39" width="5.40" height="5.2" fill="url(#m3)"/>
<rect x="340.80" y="51.39" width="5.00" height="5.2" fill="url(#m2)"/>
<rect x="346.20" y="51.39" width="1.30" height="5.2" fill="url(#m7)"/>
<rect x="347.70" y="51.39" width="5.00" height="5.2" fill="url(#m1)"/>
<rect x="353.30" y="51.39" width="5.10" height="5.2" fill="url(#m4)"/>
<rect x="358.80" y="51.39" width="2.00" height="5.2" fill="url(#m10)"/>
<rect x="364.60" y="51.39" width="2.80" height="5.2" fill="url(#m9)"/>
<line x1="324.5" y1="61.66" x2="376" y2="61.66" stroke="#a2a2a2" stroke-width="0.85"/>
<rect x="326.00" y="59.06" width="5.00" height="5.2" fill="url(#m5)"/>
<rect x="331.40" y="59.06" width="5.40" height="5.2" fill="url(#m3)"/>
<rect x="337.20" y="59.06" width="5.00" height="5.2" fill="url(#m2)"/>
<rect x="342.60" y="59.06" width="1.30" height="5.2" fill="url(#m7)"/>
<rect x="344.10" y="59.06" width="5.00" height="5.2" fill="url(#m1)"/>
<rect x="349.70" y="59.06" width="5.10" height="5.2" fill="url(#m4)"/>
<rect x="355.20" y="59.06" width="2.00" height="5.2" fill="url(#m10)"/>
<rect x="360.00" y="59.06" width="2.80" height="5.2" fill="url(#m9)"/>
<rect x="369.60" y="59.06" width="2.80" height="5.2" fill="url(#m8)"/>
<line x1="324.5" y1="69.33" x2="375" y2="69.33" stroke="#a2a2a2" stroke-width="0.85"/>
<rect x="326.00" y="66.73" width="5.00" height="5.2" fill="url(#m5)"/>
<rect x="331.40" y="66.73" width="5.40" height="5.2" fill="url(#m3)"/>
<rect x="337.20" y="66.73" width="5.00" height="5.2" fill="url(#m2)"/>
<rect x="342.60" y="66.73" width="1.30" height="5.2" fill="url(#m7)"/>
<rect x="344.10" y="66.73" width="5.00" height="5.2" fill="url(#m1)"/>
<rect x="349.70" y="66.73" width="5.10" height="5.2" fill="url(#m4)"/>
<rect x="355.20" y="66.73" width="2.00" height="5.2" fill="url(#m10)"/>
<rect x="360.00" y="66.73" width="2.80" height="5.2" fill="url(#m9)"/>
<rect x="369.00" y="66.73" width="2.80" height="5.2" fill="url(#m8)"/>
<line x1="324.5" y1="76.99" x2="381" y2="76.99" stroke="#a2a2a2" stroke-width="0.85"/>
<rect x="326.00" y="74.39" width="5.00" height="5.2" fill="url(#m5)"/>
<rect x="331.40" y="74.39" width="5.40" height="5.2" fill="url(#m3)"/>
<rect x="337.20" y="74.39" width="5.00" height="5.2" fill="url(#m2)"/>
<rect x="342.60" y="74.39" width="1.30" height="5.2" fill="url(#m7)"/>
<rect x="344.10" y="74.39" width="5.00" height="5.2" fill="url(#m1)"/>
<rect x="349.70" y="74.39" width="5.10" height="5.2" fill="url(#m4)"/>
<rect x="355.20" y="74.39" width="2.00" height="5.2" fill="url(#m10)"/>
<rect x="363.40" y="74.39" width="2.80" height="5.2" fill="url(#m9)"/>
<rect x="373.40" y="74.39" width="2.80" height="5.2" fill="url(#m8)"/>
<line x1="324.5" y1="84.66" x2="383.6" y2="84.66" stroke="#a2a2a2" stroke-width="0.85"/>
<rect x="338.30" y="82.06" width="5.40" height="5.2" fill="url(#m3)"/>
<rect x="344.10" y="82.06" width="5.00" height="5.2" fill="url(#m2)"/>
<rect x="349.50" y="82.06" width="1.30" height="5.2" fill="url(#m7)"/>
<rect x="351.00" y="82.06" width="5.00" height="5.2" fill="url(#m1)"/>
<rect x="356.60" y="82.06" width="5.10" height="5.2" fill="url(#m4)"/>
<rect x="362.10" y="82.06" width="2.00" height="5.2" fill="url(#m10)"/>
<rect x="367.90" y="82.06" width="2.80" height="5.2" fill="url(#m9)"/>
<rect x="377.20" y="82.06" width="2.80" height="5.2" fill="url(#m8)"/>
<line x1="324.5" y1="92.33" x2="377" y2="92.33" stroke="#a2a2a2" stroke-width="0.85"/>
<rect x="326.00" y="89.73" width="5.00" height="5.2" fill="url(#m5)"/>
<rect x="331.40" y="89.73" width="5.40" height="5.2" fill="url(#m3)"/>
<rect x="337.20" y="89.73" width="5.00" height="5.2" fill="url(#m2)"/>
<rect x="342.60" y="89.73" width="1.30" height="5.2" fill="url(#m7)"/>
<rect x="344.10" y="89.73" width="5.00" height="5.2" fill="url(#m1)"/>
<rect x="349.70" y="89.73" width="5.10" height="5.2" fill="url(#m4)"/>
<rect x="355.20" y="89.73" width="2.00" height="5.2" fill="url(#m10)"/>
<rect x="360.00" y="89.73" width="2.80" height="5.2" fill="url(#m9)"/>
<rect x="370.60" y="89.73" width="2.80" height="5.2" fill="url(#m8)"/>
<line x1="324.5" y1="100.00" x2="377" y2="100.00" stroke="#a2a2a2" stroke-width="0.85"/>
<rect x="326.00" y="97.40" width="5.00" height="5.2" fill="url(#m5)"/>
<rect x="331.40" y="97.40" width="5.40" height="5.2" fill="url(#m3)"/>
<rect x="337.20" y="97.40" width="5.00" height="5.2" fill="url(#m2)"/>
<rect x="342.60" y="97.40" width="1.30" height="5.2" fill="url(#m7)"/>
<rect x="344.10" y="97.40" width="5.00" height="5.2" fill="url(#m1)"/>
<rect x="349.70" y="97.40" width="5.10" height="5.2" fill="url(#m4)"/>
<rect x="355.20" y="97.40" width="2.00" height="5.2" fill="url(#m10)"/>
<rect x="360.00" y="97.40" width="2.80" height="5.2" fill="url(#m9)"/>
<rect x="370.60" y="97.40" width="2.80" height="5.2" fill="url(#m8)"/>
<line x1="324.5" y1="107.67" x2="391" y2="107.67" stroke="#a2a2a2" stroke-width="0.85"/>
<rect x="337.00" y="105.07" width="5.00" height="5.2" fill="url(#m5)"/>
<rect x="342.40" y="105.07" width="5.40" height="5.2" fill="url(#m3)"/>
<rect x="348.20" y="105.07" width="5.00" height="5.2" fill="url(#m2)"/>
<rect x="353.60" y="105.07" width="1.30" height="5.2" fill="url(#m7)"/>
<rect x="355.10" y="105.07" width="5.00" height="5.2" fill="url(#m1)"/>
<rect x="360.70" y="105.07" width="5.10" height="5.2" fill="url(#m4)"/>
<rect x="366.20" y="105.07" width="2.00" height="5.2" fill="url(#m10)"/>
<rect x="373.00" y="105.07" width="2.80" height="5.2" fill="url(#m9)"/>
<rect x="383.00" y="105.07" width="2.80" height="5.2" fill="url(#m8)"/>
<line x1="324.5" y1="115.33" x2="378" y2="115.33" stroke="#a2a2a2" stroke-width="0.85"/>
<rect x="325.60" y="112.73" width="5.00" height="5.2" fill="url(#m5)"/>
<rect x="331.00" y="112.73" width="5.40" height="5.2" fill="url(#m3)"/>
<rect x="336.80" y="112.73" width="5.00" height="5.2" fill="url(#m2)"/>
<rect x="342.20" y="112.73" width="1.30" height="5.2" fill="url(#m7)"/>
<rect x="343.70" y="112.73" width="5.00" height="5.2" fill="url(#m1)"/>
<rect x="349.30" y="112.73" width="5.10" height="5.2" fill="url(#m4)"/>
<rect x="354.80" y="112.73" width="2.00" height="5.2" fill="url(#m10)"/>
<rect x="361.40" y="112.73" width="2.80" height="5.2" fill="url(#m9)"/>
<rect x="371.40" y="112.73" width="2.80" height="5.2" fill="url(#m8)"/>
<line x1="324.5" y1="123.00" x2="377" y2="123.00" stroke="#a2a2a2" stroke-width="0.85"/>
<rect x="325.60" y="120.40" width="5.00" height="5.2" fill="url(#m5)"/>
<rect x="331.00" y="120.40" width="5.40" height="5.2" fill="url(#m3)"/>
<rect x="336.80" y="120.40" width="5.00" height="5.2" fill="url(#m2)"/>
<rect x="342.20" y="120.40" width="1.30" height="5.2" fill="url(#m7)"/>
<rect x="343.70" y="120.40" width="5.00" height="5.2" fill="url(#m1)"/>
<rect x="349.30" y="120.40" width="5.10" height="5.2" fill="url(#m4)"/>
<rect x="354.80" y="120.40" width="2.00" height="5.2" fill="url(#m10)"/>
<rect x="361.00" y="120.40" width="2.80" height="5.2" fill="url(#m9)"/>
<rect x="371.00" y="120.40" width="2.80" height="5.2" fill="url(#m8)"/>
<line x1="324.5" y1="130.67" x2="377" y2="130.67" stroke="#a2a2a2" stroke-width="0.85"/>
<rect x="325.60" y="128.07" width="5.00" height="5.2" fill="url(#m5)"/>
<rect x="331.00" y="128.07" width="5.40" height="5.2" fill="url(#m3)"/>
<rect x="336.80" y="128.07" width="5.00" height="5.2" fill="url(#m2)"/>
<rect x="342.20" y="128.07" width="1.30" height="5.2" fill="url(#m7)"/>
<rect x="343.70" y="128.07" width="5.00" height="5.2" fill="url(#m1)"/>
<rect x="349.30" y="128.07" width="5.10" height="5.2" fill="url(#m4)"/>
<rect x="354.80" y="128.07" width="2.00" height="5.2" fill="url(#m10)"/>
<rect x="361.00" y="128.07" width="2.80" height="5.2" fill="url(#m9)"/>
<rect x="371.00" y="128.07" width="2.80" height="5.2" fill="url(#m8)"/>
<line x1="324.5" y1="138.34" x2="377" y2="138.34" stroke="#a2a2a2" stroke-width="0.85"/>
<rect x="325.60" y="135.74" width="5.00" height="5.2" fill="url(#m5)"/>
<rect x="331.00" y="135.74" width="5.40" height="5.2" fill="url(#m3)"/>
<rect x="336.80" y="135.74" width="5.00" height="5.2" fill="url(#m2)"/>
<rect x="342.20" y="135.74" width="1.30" height="5.2" fill="url(#m7)"/>
<rect x="343.70" y="135.74" width="5.00" height="5.2" fill="url(#m1)"/>
<rect x="349.30" y="135.74" width="5.10" height="5.2" fill="url(#m4)"/>
<rect x="354.80" y="135.74" width="2.00" height="5.2" fill="url(#m10)"/>
<rect x="361.00" y="135.74" width="2.80" height="5.2" fill="url(#m9)"/>
<rect x="371.00" y="135.74" width="2.80" height="5.2" fill="url(#m8)"/>
<line x1="324.5" y1="146.01" x2="383.6" y2="146.01" stroke="#a2a2a2" stroke-width="0.85"/>
<rect x="329.40" y="143.41" width="5.00" height="5.2" fill="url(#m5)"/>
<rect x="334.80" y="143.41" width="5.40" height="5.2" fill="url(#m3)"/>
<rect x="340.60" y="143.41" width="5.00" height="5.2" fill="url(#m2)"/>
<rect x="346.00" y="143.41" width="1.30" height="5.2" fill="url(#m7)"/>
<rect x="347.50" y="143.41" width="5.00" height="5.2" fill="url(#m1)"/>
<rect x="353.10" y="143.41" width="5.10" height="5.2" fill="url(#m4)"/>
<rect x="358.60" y="143.41" width="2.00" height="5.2" fill="url(#m10)"/>
<rect x="363.60" y="143.41" width="2.80" height="5.2" fill="url(#m9)"/>
<rect x="373.40" y="143.41" width="2.80" height="5.2" fill="url(#m8)"/>
<line x1="324.5" y1="153.67" x2="384.4" y2="153.67" stroke="#a2a2a2" stroke-width="0.85"/>
<rect x="325.60" y="151.07" width="5.00" height="5.2" fill="url(#m5)"/>
<rect x="331.00" y="151.07" width="5.40" height="5.2" fill="url(#m3)"/>
<rect x="336.80" y="151.07" width="5.00" height="5.2" fill="url(#m2)"/>
<rect x="342.20" y="151.07" width="1.30" height="5.2" fill="url(#m7)"/>
<rect x="343.70" y="151.07" width="5.00" height="5.2" fill="url(#m1)"/>
<rect x="349.30" y="151.07" width="5.10" height="5.2" fill="url(#m4)"/>
<rect x="354.80" y="151.07" width="2.00" height="5.2" fill="url(#m10)"/>
<rect x="361.00" y="151.07" width="2.80" height="5.2" fill="url(#m9)"/>
<rect x="371.00" y="151.07" width="2.80" height="5.2" fill="url(#m8)"/>
<line x1="324.5" y1="161.34" x2="419" y2="161.34" stroke="#a2a2a2" stroke-width="0.85"/>
<rect x="367.00" y="158.74" width="5.00" height="5.2" fill="url(#m5)"/>
<rect x="372.40" y="158.74" width="5.40" height="5.2" fill="url(#m3)"/>
<rect x="378.20" y="158.74" width="5.00" height="5.2" fill="url(#m2)"/>
<rect x="383.60" y="158.74" width="1.30" height="5.2" fill="url(#m7)"/>
<rect x="385.10" y="158.74" width="5.00" height="5.2" fill="url(#m1)"/>
<rect x="390.70" y="158.74" width="5.10" height="5.2" fill="url(#m4)"/>
<rect x="396.20" y="158.74" width="2.00" height="5.2" fill="url(#m10)"/>
<rect x="402.40" y="158.74" width="2.80" height="5.2" fill="url(#m9)"/>
<rect x="412.00" y="158.74" width="2.80" height="5.2" fill="url(#m8)"/>
<line x1="324.5" y1="169.01" x2="379.6" y2="169.01" stroke="#a2a2a2" stroke-width="0.85"/>
<rect x="325.60" y="166.41" width="5.00" height="5.2" fill="url(#m5)"/>
<rect x="331.00" y="166.41" width="5.40" height="5.2" fill="url(#m3)"/>
<rect x="336.80" y="166.41" width="5.00" height="5.2" fill="url(#m2)"/>
<rect x="342.20" y="166.41" width="1.30" height="5.2" fill="url(#m7)"/>
<rect x="343.70" y="166.41" width="5.00" height="5.2" fill="url(#m1)"/>
<rect x="349.30" y="166.41" width="5.10" height="5.2" fill="url(#m4)"/>
<rect x="354.80" y="166.41" width="2.00" height="5.2" fill="url(#m10)"/>
<rect x="361.00" y="166.41" width="2.80" height="5.2" fill="url(#m9)"/>
<rect x="371.00" y="166.41" width="2.80" height="5.2" fill="url(#m8)"/>
<line x1="324.5" y1="176.68" x2="384.4" y2="176.68" stroke="#a2a2a2" stroke-width="0.85"/>
<rect x="332.40" y="174.08" width="5.00" height="5.2" fill="url(#m5)"/>
<rect x="337.80" y="174.08" width="5.40" height="5.2" fill="url(#m3)"/>
<rect x="343.60" y="174.08" width="5.00" height="5.2" fill="url(#m2)"/>
<rect x="349.00" y="174.08" width="1.30" height="5.2" fill="url(#m7)"/>
<rect x="350.50" y="174.08" width="5.00" height="5.2" fill="url(#m1)"/>
<rect x="356.10" y="174.08" width="5.10" height="5.2" fill="url(#m4)"/>
<rect x="361.60" y="174.08" width="2.00" height="5.2" fill="url(#m10)"/>
<rect x="367.60" y="174.08" width="2.80" height="5.2" fill="url(#m9)"/>
<rect x="377.40" y="174.08" width="2.80" height="5.2" fill="url(#m8)"/>
<line x1="324.5" y1="184.35" x2="379.6" y2="184.35" stroke="#a2a2a2" stroke-width="0.85"/>
<rect x="327.00" y="181.75" width="5.00" height="5.2" fill="url(#m5)"/>
<rect x="332.40" y="181.75" width="5.40" height="5.2" fill="url(#m3)"/>
<rect x="338.20" y="181.75" width="5.00" height="5.2" fill="url(#m2)"/>
<rect x="343.60" y="181.75" width="1.30" height="5.2" fill="url(#m7)"/>
<rect x="345.10" y="181.75" width="5.00" height="5.2" fill="url(#m1)"/>
<rect x="350.70" y="181.75" width="5.10" height="5.2" fill="url(#m4)"/>
<rect x="356.20" y="181.75" width="2.00" height="5.2" fill="url(#m10)"/>
<rect x="362.40" y="181.75" width="2.80" height="5.2" fill="url(#m9)"/>
<rect x="372.00" y="181.75" width="2.80" height="5.2" fill="url(#m8)"/>
<line x1="324.5" y1="192.01" x2="377.6" y2="192.01" stroke="#a2a2a2" stroke-width="0.85"/>
<rect x="326.00" y="189.41" width="5.00" height="5.2" fill="url(#m5)"/>
<rect x="331.40" y="189.41" width="5.40" height="5.2" fill="url(#m3)"/>
<rect x="337.20" y="189.41" width="5.00" height="5.2" fill="url(#m2)"/>
<rect x="342.60" y="189.41" width="1.30" height="5.2" fill="url(#m7)"/>
<rect x="344.10" y="189.41" width="5.00" height="5.2" fill="url(#m1)"/>
<rect x="349.70" y="189.41" width="5.10" height="5.2" fill="url(#m4)"/>
<rect x="355.20" y="189.41" width="2.00" height="5.2" fill="url(#m10)"/>
<rect x="361.40" y="189.41" width="2.80" height="5.2" fill="url(#m9)"/>
<rect x="371.40" y="189.41" width="2.80" height="5.2" fill="url(#m8)"/>
<line x1="324.5" y1="199.68" x2="377" y2="199.68" stroke="#a2a2a2" stroke-width="0.85"/>
<rect x="325.60" y="197.08" width="5.00" height="5.2" fill="url(#m5)"/>
<rect x="331.00" y="197.08" width="5.40" height="5.2" fill="url(#m3)"/>
<rect x="336.80" y="197.08" width="5.00" height="5.2" fill="url(#m2)"/>
<rect x="342.20" y="197.08" width="1.30" height="5.2" fill="url(#m7)"/>
<rect x="343.70" y="197.08" width="5.00" height="5.2" fill="url(#m1)"/>
<rect x="349.30" y="197.08" width="5.10" height="5.2" fill="url(#m4)"/>
<rect x="354.80" y="197.08" width="2.00" height="5.2" fill="url(#m10)"/>
<rect x="361.00" y="197.08" width="2.80" height="5.2" fill="url(#m9)"/>
<rect x="371.00" y="197.08" width="2.80" height="5.2" fill="url(#m8)"/>
<line x1="324.5" y1="207.35" x2="377.6" y2="207.35" stroke="#a2a2a2" stroke-width="0.85"/>
<rect x="326.00" y="204.75" width="5.00" height="5.2" fill="url(#m5)"/>
<rect x="331.40" y="204.75" width="5.40" height="5.2" fill="url(#m3)"/>
<rect x="337.20" y="204.75" width="5.00" height="5.2" fill="url(#m2)"/>
<rect x="342.60" y="204.75" width="1.30" height="5.2" fill="url(#m7)"/>
<rect x="344.10" y="204.75" width="5.00" height="5.2" fill="url(#m1)"/>
<rect x="349.70" y="204.75" width="5.10" height="5.2" fill="url(#m4)"/>
<rect x="355.20" y="204.75" width="2.00" height="5.2" fill="url(#m10)"/>
<rect x="361.40" y="204.75" width="2.80" height="5.2" fill="url(#m9)"/>
<rect x="371.40" y="204.75" width="2.80" height="5.2" fill="url(#m8)"/>
<line x1="324.5" y1="215.02" x2="378" y2="215.02" stroke="#a2a2a2" stroke-width="0.85"/>
<rect x="326.00" y="212.42" width="5.00" height="5.2" fill="url(#m5)"/>
<rect x="331.40" y="212.42" width="5.40" height="5.2" fill="url(#m3)"/>
<rect x="337.20" y="212.42" width="5.00" height="5.2" fill="url(#m2)"/>
<rect x="342.60" y="212.42" width="1.30" height="5.2" fill="url(#m7)"/>
<rect x="344.10" y="212.42" width="5.00" height="5.2" fill="url(#m1)"/>
<rect x="349.70" y="212.42" width="5.10" height="5.2" fill="url(#m4)"/>
<rect x="355.20" y="212.42" width="2.00" height="5.2" fill="url(#m10)"/>
<rect x="361.40" y="212.42" width="2.80" height="5.2" fill="url(#m9)"/>
<rect x="371.40" y="212.42" width="2.80" height="5.2" fill="url(#m8)"/>
<line x1="324.5" y1="222.69" x2="377" y2="222.69" stroke="#a2a2a2" stroke-width="0.85"/>
<rect x="325.00" y="220.09" width="5.00" height="5.2" fill="url(#m5)"/>
<rect x="330.40" y="220.09" width="5.40" height="5.2" fill="url(#m3)"/>
<rect x="336.20" y="220.09" width="5.00" height="5.2" fill="url(#m2)"/>
<rect x="341.60" y="220.09" width="1.30" height="5.2" fill="url(#m7)"/>
<rect x="343.10" y="220.09" width="5.00" height="5.2" fill="url(#m1)"/>
<rect x="348.70" y="220.09" width="5.10" height="5.2" fill="url(#m4)"/>
<rect x="354.20" y="220.09" width="2.00" height="5.2" fill="url(#m10)"/>
<rect x="360.60" y="220.09" width="2.80" height="5.2" fill="url(#m9)"/>
<rect x="371.00" y="220.09" width="2.80" height="5.2" fill="url(#m8)"/>
<line x1="324.5" y1="230.35" x2="378" y2="230.35" stroke="#a2a2a2" stroke-width="0.85"/>
<rect x="325.40" y="227.75" width="5.00" height="5.2" fill="url(#m5)"/>
<rect x="330.80" y="227.75" width="5.40" height="5.2" fill="url(#m3)"/>
<rect x="336.60" y="227.75" width="5.00" height="5.2" fill="url(#m2)"/>
<rect x="342.00" y="227.75" width="1.30" height="5.2" fill="url(#m7)"/>
<rect x="343.50" y="227.75" width="5.00" height="5.2" fill="url(#m1)"/>
<rect x="349.10" y="227.75" width="5.10" height="5.2" fill="url(#m4)"/>
<rect x="354.60" y="227.75" width="2.00" height="5.2" fill="url(#m10)"/>
<rect x="360.60" y="227.75" width="2.80" height="5.2" fill="url(#m9)"/>
<rect x="371.00" y="227.75" width="2.80" height="5.2" fill="url(#m8)"/>
<line x1="324.5" y1="238.02" x2="383" y2="238.02" stroke="#a2a2a2" stroke-width="0.85"/>
<rect x="329.60" y="235.42" width="5.00" height="5.2" fill="url(#m5)"/>
<rect x="335.00" y="235.42" width="5.40" height="5.2" fill="url(#m3)"/>
<rect x="340.80" y="235.42" width="5.00" height="5.2" fill="url(#m2)"/>
<rect x="346.20" y="235.42" width="1.30" height="5.2" fill="url(#m7)"/>
<rect x="347.70" y="235.42" width="5.00" height="5.2" fill="url(#m1)"/>
<rect x="353.30" y="235.42" width="5.10" height="5.2" fill="url(#m4)"/>
<rect x="358.80" y="235.42" width="2.00" height="5.2" fill="url(#m10)"/>
<rect x="365.00" y="235.42" width="2.80" height="5.2" fill="url(#m9)"/>
<rect x="375.00" y="235.42" width="2.80" height="5.2" fill="url(#m8)"/>
<line x1="324.5" y1="245.69" x2="383" y2="245.69" stroke="#a2a2a2" stroke-width="0.85"/>
<rect x="330.00" y="243.09" width="5.00" height="5.2" fill="url(#m5)"/>
<rect x="335.40" y="243.09" width="5.40" height="5.2" fill="url(#m3)"/>
<rect x="341.20" y="243.09" width="5.00" height="5.2" fill="url(#m2)"/>
<rect x="346.60" y="243.09" width="1.30" height="5.2" fill="url(#m7)"/>
<rect x="348.10" y="243.09" width="5.00" height="5.2" fill="url(#m1)"/>
<rect x="353.70" y="243.09" width="5.10" height="5.2" fill="url(#m4)"/>
<rect x="359.20" y="243.09" width="2.00" height="5.2" fill="url(#m10)"/>
<rect x="365.40" y="243.09" width="2.80" height="5.2" fill="url(#m9)"/>
<rect x="375.40" y="243.09" width="2.80" height="5.2" fill="url(#m8)"/>
<line x1="324.5" y1="253.36" x2="386" y2="253.36" stroke="#a2a2a2" stroke-width="0.85"/>
<rect x="328.00" y="250.76" width="5.00" height="5.2" fill="url(#m5)"/>
<rect x="333.40" y="250.76" width="5.40" height="5.2" fill="url(#m3)"/>
<rect x="339.20" y="250.76" width="5.00" height="5.2" fill="url(#m2)"/>
<rect x="344.60" y="250.76" width="1.30" height="5.2" fill="url(#m7)"/>
<rect x="346.10" y="250.76" width="5.00" height="5.2" fill="url(#m1)"/>
<rect x="351.70" y="250.76" width="5.10" height="5.2" fill="url(#m4)"/>
<rect x="357.20" y="250.76" width="2.00" height="5.2" fill="url(#m10)"/>
<line x1="324.5" y1="261.03" x2="392" y2="261.03" stroke="#a2a2a2" stroke-width="0.85"/>
<rect x="334.00" y="258.43" width="5.00" height="5.2" fill="url(#m5)"/>
<rect x="339.40" y="258.43" width="5.40" height="5.2" fill="url(#m3)"/>
<rect x="345.20" y="258.43" width="5.00" height="5.2" fill="url(#m2)"/>
<rect x="350.60" y="258.43" width="1.30" height="5.2" fill="url(#m7)"/>
<rect x="352.10" y="258.43" width="5.00" height="5.2" fill="url(#m1)"/>
<rect x="357.70" y="258.43" width="5.10" height="5.2" fill="url(#m4)"/>
<rect x="363.20" y="258.43" width="2.00" height="5.2" fill="url(#m10)"/>
<line x1="324.5" y1="268.69" x2="390" y2="268.69" stroke="#a2a2a2" stroke-width="0.85"/>
<rect x="330.60" y="266.09" width="5.00" height="5.2" fill="url(#m5)"/>
<rect x="336.00" y="266.09" width="5.40" height="5.2" fill="url(#m3)"/>
<rect x="341.80" y="266.09" width="5.00" height="5.2" fill="url(#m2)"/>
<rect x="347.20" y="266.09" width="1.30" height="5.2" fill="url(#m7)"/>
<rect x="348.70" y="266.09" width="5.00" height="5.2" fill="url(#m1)"/>
<rect x="354.30" y="266.09" width="5.10" height="5.2" fill="url(#m4)"/>
<rect x="359.80" y="266.09" width="2.00" height="5.2" fill="url(#m10)"/>
<line x1="324.5" y1="276.36" x2="385.6" y2="276.36" stroke="#a2a2a2" stroke-width="0.85"/>
<rect x="326.00" y="273.76" width="5.00" height="5.2" fill="url(#m5)"/>
<rect x="331.40" y="273.76" width="5.40" height="5.2" fill="url(#m3)"/>
<rect x="337.20" y="273.76" width="5.00" height="5.2" fill="url(#m2)"/>
<rect x="342.60" y="273.76" width="1.30" height="5.2" fill="url(#m7)"/>
<rect x="344.10" y="273.76" width="5.00" height="5.2" fill="url(#m1)"/>
<rect x="349.70" y="273.76" width="5.10" height="5.2" fill="url(#m4)"/>
<rect x="355.20" y="273.76" width="2.00" height="5.2" fill="url(#m10)"/>
<line x1="324.5" y1="284.03" x2="367.8" y2="284.03" stroke="#a2a2a2" stroke-width="0.85"/>
<rect x="327.10" y="281.43" width="4.70" height="5.2" fill="url(#m5)"/>
<rect x="332.30" y="281.43" width="5.40" height="5.2" fill="url(#m3)"/>
<rect x="338.10" y="281.43" width="4.80" height="5.2" fill="url(#m2)"/>
<rect x="344.10" y="281.43" width="1.00" height="5.2" fill="url(#m7)"/>
<rect x="345.10" y="281.43" width="4.80" height="5.2" fill="url(#m1)"/>
<rect x="350.80" y="281.43" width="8.30" height="5.2" fill="url(#m6)"/>
<line x1="324.5" y1="291.70" x2="367.6" y2="291.70" stroke="#a2a2a2" stroke-width="0.85"/>
<rect x="326.60" y="289.10" width="4.70" height="5.2" fill="url(#m5)"/>
<rect x="331.80" y="289.10" width="5.40" height="5.2" fill="url(#m3)"/>
<rect x="337.60" y="289.10" width="4.80" height="5.2" fill="url(#m2)"/>
<rect x="343.60" y="289.10" width="1.00" height="5.2" fill="url(#m7)"/>
<rect x="344.60" y="289.10" width="4.80" height="5.2" fill="url(#m1)"/>
<rect x="350.30" y="289.10" width="8.30" height="5.2" fill="url(#m6)"/>
<line x1="324.5" y1="299.37" x2="367" y2="299.37" stroke="#a2a2a2" stroke-width="0.85"/>
<rect x="326.00" y="296.77" width="4.70" height="5.2" fill="url(#m5)"/>
<rect x="331.20" y="296.77" width="5.40" height="5.2" fill="url(#m3)"/>
<rect x="337.00" y="296.77" width="4.80" height="5.2" fill="url(#m2)"/>
<rect x="343.00" y="296.77" width="1.00" height="5.2" fill="url(#m7)"/>
<rect x="344.00" y="296.77" width="4.80" height="5.2" fill="url(#m1)"/>
<rect x="349.70" y="296.77" width="8.30" height="5.2" fill="url(#m6)"/>
<line x1="324.5" y1="307.03" x2="368.6" y2="307.03" stroke="#a2a2a2" stroke-width="0.85"/>
<rect x="328.00" y="304.43" width="4.70" height="5.2" fill="url(#m5)"/>
<rect x="333.20" y="304.43" width="5.40" height="5.2" fill="url(#m3)"/>
<rect x="339.00" y="304.43" width="4.80" height="5.2" fill="url(#m2)"/>
<rect x="345.00" y="304.43" width="1.00" height="5.2" fill="url(#m7)"/>
<rect x="346.00" y="304.43" width="4.80" height="5.2" fill="url(#m1)"/>
<rect x="351.70" y="304.43" width="8.30" height="5.2" fill="url(#m6)"/>
<line x1="324.5" y1="314.70" x2="365" y2="314.70" stroke="#a2a2a2" stroke-width="0.85"/>
<rect x="324.40" y="312.10" width="4.70" height="5.2" fill="url(#m5)"/>
<rect x="329.60" y="312.10" width="5.40" height="5.2" fill="url(#m3)"/>
<rect x="335.40" y="312.10" width="4.80" height="5.2" fill="url(#m2)"/>
<rect x="341.40" y="312.10" width="1.00" height="5.2" fill="url(#m7)"/>
<rect x="342.40" y="312.10" width="4.80" height="5.2" fill="url(#m1)"/>
<rect x="348.10" y="312.10" width="8.30" height="5.2" fill="url(#m6)"/>
<line x1="324.5" y1="322.37" x2="364.8" y2="322.37" stroke="#a2a2a2" stroke-width="0.85"/>
<rect x="324.20" y="319.77" width="4.70" height="5.2" fill="url(#m5)"/>
<rect x="329.40" y="319.77" width="5.40" height="5.2" fill="url(#m3)"/>
<rect x="335.20" y="319.77" width="4.80" height="5.2" fill="url(#m2)"/>
<rect x="341.20" y="319.77" width="1.00" height="5.2" fill="url(#m7)"/>
<rect x="342.20" y="319.77" width="4.80" height="5.2" fill="url(#m1)"/>
<rect x="353.40" y="319.77" width="2.20" height="5.2" fill="url(#m10)"/>
<line x1="324.5" y1="330.04" x2="379" y2="330.04" stroke="#a2a2a2" stroke-width="0.85"/>
<rect x="339.00" y="327.44" width="4.70" height="5.2" fill="url(#m5)"/>
<rect x="344.20" y="327.44" width="5.40" height="5.2" fill="url(#m3)"/>
<rect x="350.00" y="327.44" width="4.80" height="5.2" fill="url(#m2)"/>
<rect x="356.00" y="327.44" width="1.00" height="5.2" fill="url(#m7)"/>
<rect x="357.00" y="327.44" width="4.80" height="5.2" fill="url(#m1)"/>
<rect x="362.70" y="327.44" width="8.30" height="5.2" fill="url(#m6)"/>
<line x1="324.5" y1="337.71" x2="367" y2="337.71" stroke="#a2a2a2" stroke-width="0.85"/>
<rect x="324.40" y="335.11" width="4.70" height="5.2" fill="url(#m5)"/>
<rect x="329.60" y="335.11" width="5.40" height="5.2" fill="url(#m3)"/>
<rect x="335.40" y="335.11" width="4.80" height="5.2" fill="url(#m2)"/>
<rect x="341.40" y="335.11" width="1.00" height="5.2" fill="url(#m7)"/>
<rect x="342.40" y="335.11" width="4.80" height="5.2" fill="url(#m1)"/>
<rect x="348.10" y="335.11" width="8.30" height="5.2" fill="url(#m6)"/>
<line x1="324.5" y1="345.37" x2="369" y2="345.37" stroke="#a2a2a2" stroke-width="0.85"/>
<rect x="324.40" y="342.77" width="4.70" height="5.2" fill="url(#m5)"/>
<rect x="329.60" y="342.77" width="5.40" height="5.2" fill="url(#m3)"/>
<rect x="335.40" y="342.77" width="4.80" height="5.2" fill="url(#m2)"/>
<rect x="341.40" y="342.77" width="1.00" height="5.2" fill="url(#m7)"/>
<rect x="342.40" y="342.77" width="4.80" height="5.2" fill="url(#m1)"/>
<rect x="348.10" y="342.77" width="8.30" height="5.2" fill="url(#m6)"/>
<line x1="324.5" y1="353.04" x2="369.6" y2="353.04" stroke="#a2a2a2" stroke-width="0.85"/>
<rect x="327.00" y="350.44" width="4.70" height="5.2" fill="url(#m5)"/>
<rect x="332.20" y="350.44" width="5.40" height="5.2" fill="url(#m3)"/>
<rect x="338.00" y="350.44" width="4.80" height="5.2" fill="url(#m2)"/>
<rect x="344.00" y="350.44" width="1.00" height="5.2" fill="url(#m7)"/>
<rect x="345.00" y="350.44" width="4.80" height="5.2" fill="url(#m1)"/>
<rect x="350.70" y="350.44" width="8.30" height="5.2" fill="url(#m6)"/>
<line x1="324.5" y1="360.71" x2="374.4" y2="360.71" stroke="#a2a2a2" stroke-width="0.85"/>
<rect x="331.60" y="358.11" width="4.70" height="5.2" fill="url(#m5)"/>
<rect x="336.80" y="358.11" width="5.40" height="5.2" fill="url(#m3)"/>
<rect x="342.60" y="358.11" width="4.80" height="5.2" fill="url(#m2)"/>
<rect x="348.60" y="358.11" width="1.00" height="5.2" fill="url(#m7)"/>
<rect x="349.60" y="358.11" width="4.80" height="5.2" fill="url(#m1)"/>
<rect x="355.30" y="358.11" width="8.30" height="5.2" fill="url(#m6)"/>
</g>
<line x1="324.5" y1="368.6" x2="420.1" y2="368.6" stroke="#b8b8b8" stroke-width="1"/>
<line x1="324.70" y1="367.2" x2="324.70" y2="368.6" stroke="#aaaaaa" stroke-width="0.6"/>
<text x="324.70" y="376.7" text-anchor="middle" font-size="6.55" fill="#222" stroke="#222" stroke-width="0.1">0</text>
<line x1="336.63" y1="367.2" x2="336.63" y2="368.6" stroke="#aaaaaa" stroke-width="0.6"/>
<text x="336.63" y="376.7" text-anchor="middle" font-size="6.55" fill="#222" stroke="#222" stroke-width="0.1">100</text>
<line x1="348.56" y1="367.2" x2="348.56" y2="368.6" stroke="#aaaaaa" stroke-width="0.6"/>
<text x="348.56" y="376.7" text-anchor="middle" font-size="6.55" fill="#222" stroke="#222" stroke-width="0.1">200</text>
<line x1="360.49" y1="367.2" x2="360.49" y2="368.6" stroke="#aaaaaa" stroke-width="0.6"/>
<text x="360.49" y="376.7" text-anchor="middle" font-size="6.55" fill="#222" stroke="#222" stroke-width="0.1">300</text>
<line x1="372.42" y1="367.2" x2="372.42" y2="368.6" stroke="#aaaaaa" stroke-width="0.6"/>
<text x="372.42" y="376.7" text-anchor="middle" font-size="6.55" fill="#222" stroke="#222" stroke-width="0.1">400</text>
<line x1="384.35" y1="367.2" x2="384.35" y2="368.6" stroke="#aaaaaa" stroke-width="0.6"/>
<text x="384.35" y="376.7" text-anchor="middle" font-size="6.55" fill="#222" stroke="#222" stroke-width="0.1">500</text>
<line x1="396.28" y1="367.2" x2="396.28" y2="368.6" stroke="#aaaaaa" stroke-width="0.6"/>
<text x="396.28" y="376.7" text-anchor="middle" font-size="6.55" fill="#222" stroke="#222" stroke-width="0.1">600</text>
<line x1="408.21" y1="367.2" x2="408.21" y2="368.6" stroke="#aaaaaa" stroke-width="0.6"/>
<text x="408.21" y="376.7" text-anchor="middle" font-size="6.55" fill="#222" stroke="#222" stroke-width="0.1">700</text>
<line x1="420.14" y1="367.2" x2="420.14" y2="368.6" stroke="#aaaaaa" stroke-width="0.6"/>
<text x="420.14" y="376.7" text-anchor="middle" font-size="6.55" fill="#222" stroke="#222" stroke-width="0.1">800</text>
<text x="318.7" y="370.3" font-size="7.1" font-weight="bold" fill="#222">5'</text>
<text x="420.7" y="369.9" font-size="7.1" font-weight="bold" fill="#222">3'</text>
<g stroke="#c8c8c8" stroke-width="0.5">
<rect x="514.7" y="4.00" width="14" height="5.9" fill="url(#m5)"/>
<rect x="514.7" y="11.20" width="14" height="5.9" fill="url(#m3)"/>
<rect x="514.7" y="18.40" width="14" height="5.9" fill="url(#m2)"/>
<rect x="514.7" y="25.60" width="14" height="5.9" fill="url(#m7)"/>
<rect x="514.7" y="32.80" width="14" height="5.9" fill="url(#m1)"/>
<rect x="514.7" y="40.00" width="14" height="5.9" fill="url(#m4)"/>
<rect x="514.7" y="47.20" width="14" height="5.9" fill="url(#m10)"/>
<rect x="514.7" y="54.40" width="14" height="5.9" fill="url(#m9)"/>
<rect x="514.7" y="61.60" width="14" height="5.9" fill="url(#m8)"/>
<rect x="514.7" y="68.80" width="14" height="5.9" fill="url(#m6)"/>
<rect x="514.7" y="87.8" width="14" height="5.9" fill="url(#cds)"/>
<rect x="514.7" y="95" width="14" height="5.6" fill="url(#utr)"/>
</g>
<g font-size="5.2" fill="#4a4a4a">
<text x="529.8" y="8.00">Motif 5</text>
<text x="529.8" y="15.20">Motif 3</text>
<text x="529.8" y="22.40">Motif 2</text>
<text x="529.8" y="29.60">Motif 7</text>
<text x="529.8" y="36.80">Motif 1</text>
<text x="529.8" y="44.00">Motif 4</text>
<text x="529.8" y="51.20">Motif 10</text>
<text x="529.8" y="58.40">Motif 9</text>
<text x="529.8" y="65.60">Motif 8</text>
<text x="529.8" y="72.80">Motif 6</text>
<text x="530" y="91.9">CDS</text>
<text x="530" y="99.1">UTR</text>
</g>
</svg></body></html>
